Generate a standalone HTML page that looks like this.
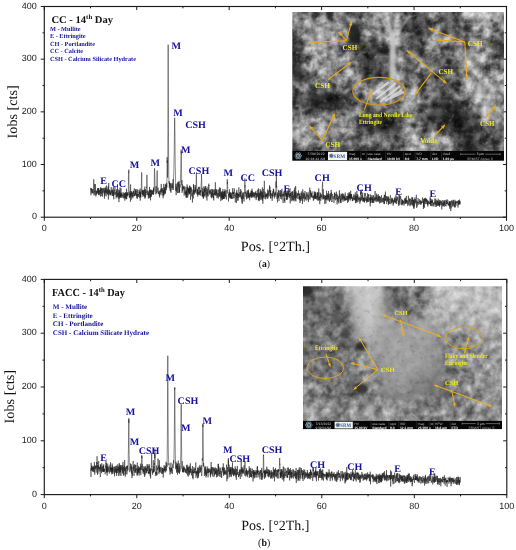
<!DOCTYPE html><html><head><meta charset="utf-8"><style>
html,body{margin:0;padding:0;background:#fff;}
body{width:516px;height:550px;overflow:hidden;position:relative;}
svg{position:absolute;left:0;top:0;filter:blur(0.28px);text-rendering:geometricPrecision;}
</style></head><body>
<svg width="516" height="550" viewBox="0 0 516 550">
<g stroke="#1c1c1c" stroke-width="1"><rect x="44.30" y="6.50" width="462.20" height="210.70" fill="none" stroke="#1c1c1c" stroke-width="1.15"/><line x1="44.30" y1="217.20" x2="44.30" y2="220.80" /><line x1="44.30" y1="6.50" x2="44.30" y2="10.10" /><line x1="90.52" y1="217.20" x2="90.52" y2="219.00" /><line x1="90.52" y1="6.50" x2="90.52" y2="8.30" /><line x1="136.74" y1="217.20" x2="136.74" y2="220.80" /><line x1="136.74" y1="6.50" x2="136.74" y2="10.10" /><line x1="182.96" y1="217.20" x2="182.96" y2="219.00" /><line x1="182.96" y1="6.50" x2="182.96" y2="8.30" /><line x1="229.18" y1="217.20" x2="229.18" y2="220.80" /><line x1="229.18" y1="6.50" x2="229.18" y2="10.10" /><line x1="275.40" y1="217.20" x2="275.40" y2="219.00" /><line x1="275.40" y1="6.50" x2="275.40" y2="8.30" /><line x1="321.62" y1="217.20" x2="321.62" y2="220.80" /><line x1="321.62" y1="6.50" x2="321.62" y2="10.10" /><line x1="367.84" y1="217.20" x2="367.84" y2="219.00" /><line x1="367.84" y1="6.50" x2="367.84" y2="8.30" /><line x1="414.06" y1="217.20" x2="414.06" y2="220.80" /><line x1="414.06" y1="6.50" x2="414.06" y2="10.10" /><line x1="460.28" y1="217.20" x2="460.28" y2="219.00" /><line x1="460.28" y1="6.50" x2="460.28" y2="8.30" /><line x1="506.50" y1="217.20" x2="506.50" y2="220.80" /><line x1="506.50" y1="6.50" x2="506.50" y2="10.10" /><line x1="44.30" y1="217.20" x2="40.70" y2="217.20" /><line x1="506.50" y1="217.20" x2="502.90" y2="217.20" /><line x1="44.30" y1="190.86" x2="42.50" y2="190.86" /><line x1="506.50" y1="190.86" x2="504.70" y2="190.86" /><line x1="44.30" y1="164.52" x2="40.70" y2="164.52" /><line x1="506.50" y1="164.52" x2="502.90" y2="164.52" /><line x1="44.30" y1="138.19" x2="42.50" y2="138.19" /><line x1="506.50" y1="138.19" x2="504.70" y2="138.19" /><line x1="44.30" y1="111.85" x2="40.70" y2="111.85" /><line x1="506.50" y1="111.85" x2="502.90" y2="111.85" /><line x1="44.30" y1="85.51" x2="42.50" y2="85.51" /><line x1="506.50" y1="85.51" x2="504.70" y2="85.51" /><line x1="44.30" y1="59.17" x2="40.70" y2="59.17" /><line x1="506.50" y1="59.17" x2="502.90" y2="59.17" /><line x1="44.30" y1="32.84" x2="42.50" y2="32.84" /><line x1="506.50" y1="32.84" x2="504.70" y2="32.84" /><line x1="44.30" y1="6.50" x2="40.70" y2="6.50" /><line x1="506.50" y1="6.50" x2="502.90" y2="6.50" /></g><g font-family='"Liberation Sans", Arial, sans-serif' font-size="9" fill="#1a1a1a"><text x="44.30" y="231.40" text-anchor="middle">0</text><text x="136.74" y="231.40" text-anchor="middle">20</text><text x="229.18" y="231.40" text-anchor="middle">40</text><text x="321.62" y="231.40" text-anchor="middle">60</text><text x="414.06" y="231.40" text-anchor="middle">80</text><text x="506.50" y="231.40" text-anchor="middle">100</text><text x="36.90" y="219.40" text-anchor="end">0</text><text x="36.90" y="166.72" text-anchor="end">100</text><text x="36.90" y="114.05" text-anchor="end">200</text><text x="36.90" y="61.37" text-anchor="end">300</text><text x="36.90" y="8.70" text-anchor="end">400</text></g>
<g stroke="#1c1c1c" stroke-width="1"><rect x="44.30" y="279.40" width="462.50" height="215.20" fill="none" stroke="#1c1c1c" stroke-width="1.15"/><line x1="44.30" y1="494.60" x2="44.30" y2="498.20" /><line x1="44.30" y1="279.40" x2="44.30" y2="283.00" /><line x1="90.55" y1="494.60" x2="90.55" y2="496.40" /><line x1="90.55" y1="279.40" x2="90.55" y2="281.20" /><line x1="136.80" y1="494.60" x2="136.80" y2="498.20" /><line x1="136.80" y1="279.40" x2="136.80" y2="283.00" /><line x1="183.05" y1="494.60" x2="183.05" y2="496.40" /><line x1="183.05" y1="279.40" x2="183.05" y2="281.20" /><line x1="229.30" y1="494.60" x2="229.30" y2="498.20" /><line x1="229.30" y1="279.40" x2="229.30" y2="283.00" /><line x1="275.55" y1="494.60" x2="275.55" y2="496.40" /><line x1="275.55" y1="279.40" x2="275.55" y2="281.20" /><line x1="321.80" y1="494.60" x2="321.80" y2="498.20" /><line x1="321.80" y1="279.40" x2="321.80" y2="283.00" /><line x1="368.05" y1="494.60" x2="368.05" y2="496.40" /><line x1="368.05" y1="279.40" x2="368.05" y2="281.20" /><line x1="414.30" y1="494.60" x2="414.30" y2="498.20" /><line x1="414.30" y1="279.40" x2="414.30" y2="283.00" /><line x1="460.55" y1="494.60" x2="460.55" y2="496.40" /><line x1="460.55" y1="279.40" x2="460.55" y2="281.20" /><line x1="506.80" y1="494.60" x2="506.80" y2="498.20" /><line x1="506.80" y1="279.40" x2="506.80" y2="283.00" /><line x1="44.30" y1="494.60" x2="40.70" y2="494.60" /><line x1="506.80" y1="494.60" x2="503.20" y2="494.60" /><line x1="44.30" y1="467.70" x2="42.50" y2="467.70" /><line x1="506.80" y1="467.70" x2="505.00" y2="467.70" /><line x1="44.30" y1="440.80" x2="40.70" y2="440.80" /><line x1="506.80" y1="440.80" x2="503.20" y2="440.80" /><line x1="44.30" y1="413.90" x2="42.50" y2="413.90" /><line x1="506.80" y1="413.90" x2="505.00" y2="413.90" /><line x1="44.30" y1="387.00" x2="40.70" y2="387.00" /><line x1="506.80" y1="387.00" x2="503.20" y2="387.00" /><line x1="44.30" y1="360.10" x2="42.50" y2="360.10" /><line x1="506.80" y1="360.10" x2="505.00" y2="360.10" /><line x1="44.30" y1="333.20" x2="40.70" y2="333.20" /><line x1="506.80" y1="333.20" x2="503.20" y2="333.20" /><line x1="44.30" y1="306.30" x2="42.50" y2="306.30" /><line x1="506.80" y1="306.30" x2="505.00" y2="306.30" /><line x1="44.30" y1="279.40" x2="40.70" y2="279.40" /><line x1="506.80" y1="279.40" x2="503.20" y2="279.40" /></g><g font-family='"Liberation Sans", Arial, sans-serif' font-size="9" fill="#1a1a1a"><text x="44.30" y="508.80" text-anchor="middle">0</text><text x="136.80" y="508.80" text-anchor="middle">20</text><text x="229.30" y="508.80" text-anchor="middle">40</text><text x="321.80" y="508.80" text-anchor="middle">60</text><text x="414.30" y="508.80" text-anchor="middle">80</text><text x="506.80" y="508.80" text-anchor="middle">100</text><text x="36.90" y="496.80" text-anchor="end">0</text><text x="36.90" y="443.00" text-anchor="end">100</text><text x="36.90" y="389.20" text-anchor="end">200</text><text x="36.90" y="335.40" text-anchor="end">300</text><text x="36.90" y="281.60" text-anchor="end">400</text></g>
<polyline points="90.52,189.70 90.67,188.12 90.82,189.76 90.96,195.21 91.11,187.86 91.26,189.39 91.41,192.67 91.56,188.95 91.70,189.68 91.85,189.91 92.00,190.80 92.15,189.08 92.29,193.36 92.44,191.45 92.59,192.52 92.74,188.93 92.89,190.79 93.03,191.90 93.18,193.47 93.33,191.27 93.48,188.52 93.63,186.09 93.76,179.27 93.77,180.26 93.92,195.05 94.07,195.50 94.22,191.22 94.37,192.34 94.51,190.26 94.66,190.25 94.81,183.94 94.96,194.68 95.11,192.24 95.25,184.20 95.40,188.84 95.55,188.79 95.70,192.71 95.84,196.48 95.99,190.45 96.14,190.65 96.29,195.09 96.44,193.29 96.58,191.27 96.73,194.17 96.88,191.36 97.03,190.72 97.18,190.93 97.32,192.73 97.47,189.08 97.62,188.10 97.77,190.00 97.92,193.78 98.06,188.64 98.21,192.74 98.36,188.16 98.51,194.64 98.65,188.05 98.80,191.16 98.95,195.24 99.10,192.14 99.25,190.92 99.39,190.20 99.54,194.37 99.69,194.79 99.84,190.46 99.99,192.67 100.13,190.35 100.28,188.61 100.43,196.60 100.58,190.30 100.73,187.09 100.87,192.13 101.02,193.84 101.17,188.67 101.32,190.32 101.46,188.20 101.61,192.31 101.76,196.08 101.91,191.54 102.06,192.66 102.20,188.62 102.35,190.55 102.50,196.59 102.65,195.15 102.80,188.28 102.94,188.96 103.09,193.33 103.24,191.22 103.39,189.75 103.54,189.67 103.68,188.33 103.83,190.38 103.98,191.55 104.13,192.10 104.28,187.75 104.42,198.69 104.57,191.71 104.72,191.15 104.87,195.97 105.01,190.17 105.16,193.42 105.31,188.42 105.46,191.69 105.61,189.07 105.75,187.26 105.90,190.03 106.05,194.19 106.20,196.30 106.35,185.51 106.49,191.67 106.64,193.58 106.79,190.84 106.94,191.95 107.09,188.51 107.23,191.22 107.38,191.29 107.53,193.69 107.68,189.79 107.82,194.76 107.97,189.15 108.12,186.32 108.27,196.39 108.42,199.50 108.56,189.33 108.71,182.96 108.86,194.67 109.01,195.50 109.16,189.47 109.30,194.21 109.45,193.14 109.60,192.66 109.75,189.80 109.90,192.91 110.04,190.70 110.19,192.23 110.34,194.45 110.49,192.76 110.63,194.86 110.78,191.76 110.93,195.49 111.08,195.42 111.23,187.12 111.37,192.09 111.52,192.13 111.67,190.32 111.82,193.39 111.97,192.79 112.11,190.70 112.26,191.20 112.41,195.92 112.56,189.48 112.71,194.13 112.85,195.68 113.00,195.20 113.15,193.58 113.30,187.09 113.45,196.19 113.59,191.90 113.74,199.36 113.89,192.49 114.04,189.62 114.18,193.32 114.33,194.62 114.48,191.88 114.63,190.41 114.78,190.56 114.92,186.39 115.07,192.09 115.22,194.69 115.37,193.23 115.52,193.09 115.66,192.54 115.81,193.02 115.96,192.40 116.11,198.33 116.26,190.38 116.40,194.89 116.55,196.83 116.70,191.10 116.85,188.97 116.99,191.63 117.14,192.72 117.29,196.22 117.44,184.18 117.59,190.54 117.73,196.97 117.88,195.86 118.03,193.15 118.18,198.38 118.33,192.96 118.47,194.98 118.62,189.70 118.77,190.56 118.92,202.17 119.07,193.53 119.21,198.79 119.36,190.24 119.51,193.24 119.66,192.08 119.80,197.17 119.95,188.14 120.10,187.57 120.25,197.27 120.40,192.80 120.54,196.11 120.69,194.11 120.84,198.02 120.99,188.28 121.14,197.16 121.28,195.09 121.43,192.64 121.58,196.25 121.73,195.01 121.88,196.05 122.02,194.75 122.17,198.00 122.32,195.76 122.47,195.08 122.62,195.50 122.76,194.33 122.91,195.43 123.06,192.19 123.21,195.51 123.35,194.93 123.50,196.55 123.65,196.11 123.80,198.39 123.95,192.86 124.09,198.00 124.24,196.76 124.39,193.33 124.54,193.19 124.69,195.66 124.83,200.67 124.98,193.11 125.13,193.60 125.28,198.77 125.43,192.00 125.57,196.55 125.72,197.86 125.87,194.06 126.02,194.90 126.16,193.71 126.31,199.31 126.46,188.70 126.61,196.19 126.76,199.09 126.90,192.38 127.05,195.39 127.20,193.27 127.35,195.33 127.50,194.45 127.64,193.49 127.79,196.56 127.94,192.07 128.09,195.26 128.24,194.77 128.38,186.80 128.53,176.95 128.68,171.61 128.74,172.64 128.83,169.55 128.98,184.96 129.12,191.06 129.27,192.24 129.42,198.05 129.57,194.01 129.71,194.30 129.86,191.32 130.01,196.97 130.16,196.06 130.31,193.06 130.45,201.76 130.60,184.41 130.75,196.25 130.90,196.34 131.05,191.37 131.19,194.17 131.34,199.60 131.49,192.07 131.64,191.35 131.79,195.42 131.93,194.88 132.08,192.48 132.23,196.83 132.38,192.61 132.52,193.35 132.67,196.07 132.82,198.31 132.97,194.65 133.12,196.67 133.26,190.79 133.41,193.47 133.56,191.46 133.71,193.48 133.86,193.07 134.00,196.34 134.15,191.78 134.30,188.27 134.45,194.83 134.60,195.71 134.74,194.34 134.89,195.34 135.04,196.02 135.19,193.38 135.33,194.72 135.48,189.28 135.63,193.79 135.78,192.76 135.93,190.78 136.07,194.71 136.22,189.24 136.37,195.73 136.52,196.28 136.67,194.88 136.81,194.08 136.96,198.11 137.11,193.81 137.26,198.94 137.41,189.30 137.55,193.93 137.70,195.69 137.85,196.52 138.00,194.86 138.15,194.34 138.29,196.92 138.44,196.52 138.59,194.20 138.74,195.24 138.88,190.64 139.03,190.00 139.18,193.53 139.33,192.08 139.48,197.77 139.62,191.54 139.77,193.64 139.92,192.00 140.07,188.47 140.22,200.71 140.36,192.68 140.51,196.97 140.66,191.62 140.81,197.62 140.96,194.95 141.10,192.14 141.25,188.19 141.40,183.48 141.55,178.77 141.64,176.22 141.69,172.34 141.84,181.69 141.99,194.20 142.14,189.69 142.29,191.95 142.43,190.64 142.58,194.47 142.73,190.78 142.88,196.75 143.03,191.59 143.17,194.94 143.32,191.25 143.47,190.20 143.62,195.70 143.77,193.53 143.91,193.24 144.06,189.59 144.21,191.11 144.36,197.21 144.50,191.90 144.65,190.98 144.80,186.61 144.95,198.65 145.10,195.02 145.24,189.10 145.39,197.61 145.54,197.11 145.69,191.67 145.84,190.07 145.98,195.41 146.13,191.56 146.28,192.72 146.43,187.15 146.58,188.01 146.72,177.36 146.87,177.46 146.91,174.89 147.02,177.12 147.17,180.90 147.32,188.61 147.46,195.09 147.61,191.01 147.76,190.78 147.91,193.58 148.05,194.04 148.20,193.83 148.35,198.59 148.50,192.61 148.65,192.46 148.79,195.94 148.94,190.83 149.09,197.55 149.24,194.93 149.39,194.68 149.53,186.86 149.68,198.24 149.83,191.37 149.98,190.16 150.13,191.95 150.27,189.39 150.42,196.32 150.57,200.38 150.72,190.69 150.86,196.92 151.01,194.15 151.16,196.86 151.31,189.76 151.46,190.35 151.60,195.38 151.75,190.21 151.90,192.69 152.05,193.52 152.20,192.88 152.34,193.70 152.49,191.10 152.64,192.06 152.79,194.15 152.94,189.83 153.08,194.97 153.23,192.11 153.38,191.67 153.53,188.30 153.68,194.59 153.82,187.27 153.97,191.52 154.12,190.18 154.27,185.87 154.41,173.28 154.56,168.33 154.63,171.19 154.71,172.58 154.86,177.99 155.01,186.77 155.15,186.50 155.30,187.79 155.45,190.01 155.60,191.75 155.75,194.26 155.89,192.72 156.04,190.06 156.19,186.08 156.34,189.92 156.49,193.38 156.63,190.56 156.78,186.71 156.93,178.96 157.08,172.34 157.08,171.13 157.22,170.59 157.37,184.97 157.52,186.30 157.67,186.77 157.82,192.48 157.96,187.63 158.11,190.47 158.26,194.07 158.41,191.88 158.56,192.64 158.70,193.45 158.85,193.33 159.00,192.22 159.15,191.28 159.30,195.48 159.44,192.67 159.59,197.49 159.74,191.78 159.89,190.59 160.03,192.02 160.18,191.58 160.33,190.56 160.48,194.53 160.63,193.12 160.77,190.66 160.92,189.04 161.07,190.93 161.22,183.94 161.37,192.39 161.51,188.83 161.66,187.91 161.81,192.36 161.96,194.52 162.11,195.63 162.25,191.23 162.40,188.10 162.55,190.74 162.70,191.00 162.85,192.71 162.99,189.59 163.14,198.26 163.29,190.50 163.44,191.08 163.58,195.53 163.73,183.91 163.88,195.40 164.03,194.29 164.18,194.58 164.32,186.92 164.47,193.31 164.62,188.08 164.77,188.19 164.92,189.09 165.06,194.03 165.21,191.55 165.36,183.83 165.51,193.29 165.66,191.49 165.80,188.97 165.95,185.40 166.10,186.81 166.25,184.70 166.39,190.09 166.54,182.81 166.69,183.08 166.84,187.74 166.99,170.41 167.13,157.20 167.25,163.01 167.28,160.42 167.43,162.55 167.58,177.64 167.73,170.79 167.87,134.36 167.94,108.79 168.02,77.64 168.17,44.66 168.17,45.78 168.32,80.91 168.47,130.15 168.61,161.15 168.76,175.60 168.91,179.26 169.06,183.53 169.20,181.07 169.35,188.21 169.50,183.04 169.65,186.30 169.80,182.63 169.94,185.16 170.09,190.61 170.24,186.77 170.39,183.32 170.54,191.27 170.68,189.48 170.83,190.25 170.98,192.72 171.13,184.55 171.28,183.37 171.42,185.04 171.57,186.84 171.72,187.73 171.87,186.64 172.02,189.73 172.16,184.14 172.31,183.42 172.46,183.54 172.61,188.11 172.75,185.73 172.90,186.13 173.05,179.14 173.20,183.91 173.35,189.99 173.49,181.15 173.64,173.98 173.79,173.86 173.94,166.17 174.09,158.38 174.23,151.65 174.38,137.63 174.53,126.24 174.64,120.14 174.64,118.68 174.68,117.69 174.83,127.25 174.97,134.96 175.12,152.99 175.27,166.65 175.42,170.29 175.56,181.64 175.71,190.73 175.86,186.83 176.01,183.98 176.16,195.24 176.30,186.71 176.45,187.09 176.60,191.14 176.75,191.67 176.90,188.58 177.04,189.12 177.19,183.32 177.34,186.46 177.49,193.14 177.64,190.86 177.78,185.77 177.93,181.89 178.08,186.99 178.23,187.29 178.37,182.15 178.52,188.43 178.67,189.36 178.82,193.00 178.97,189.93 179.11,180.87 179.26,192.74 179.41,187.80 179.56,192.32 179.71,186.96 179.85,184.13 180.00,187.53 180.15,183.81 180.30,183.03 180.45,182.06 180.59,173.46 180.74,168.44 180.89,161.42 181.04,154.70 181.11,154.09 181.11,149.69 181.19,153.53 181.33,151.39 181.48,165.02 181.63,180.06 181.78,184.87 181.92,180.07 182.07,192.85 182.22,188.61 182.37,184.36 182.52,190.92 182.66,189.79 182.81,189.64 182.96,186.50 183.11,188.44 183.26,187.74 183.40,187.25 183.55,189.26 183.70,185.78 183.85,192.01 184.00,194.46 184.14,195.67 184.29,195.23 184.44,191.73 184.59,186.52 184.73,189.42 184.88,192.05 185.03,193.66 185.18,191.90 185.33,191.52 185.47,192.09 185.62,195.01 185.77,191.85 185.92,186.90 186.07,197.56 186.21,191.14 186.36,197.43 186.51,189.77 186.66,192.89 186.81,197.37 186.95,190.10 187.10,184.39 187.25,190.10 187.40,186.61 187.55,190.73 187.69,197.69 187.84,188.88 187.99,191.92 188.14,195.40 188.28,187.93 188.43,189.60 188.58,192.31 188.73,187.68 188.88,193.48 189.02,188.44 189.17,193.73 189.32,188.82 189.47,194.27 189.62,185.65 189.76,189.77 189.91,185.85 190.06,193.37 190.21,192.22 190.36,187.84 190.50,199.79 190.65,194.21 190.80,187.21 190.95,189.11 191.09,187.41 191.24,191.70 191.39,188.80 191.54,193.11 191.69,195.25 191.83,196.33 191.98,192.53 192.13,192.52 192.28,192.79 192.43,202.52 192.57,197.36 192.72,192.48 192.87,189.75 193.02,192.64 193.17,193.64 193.31,198.41 193.46,183.98 193.61,194.39 193.76,185.12 193.90,185.53 194.05,189.82 194.20,192.64 194.35,190.29 194.50,194.58 194.64,189.87 194.79,190.73 194.94,188.97 195.09,187.58 195.24,184.97 195.38,192.04 195.53,187.25 195.68,193.22 195.83,192.84 195.98,189.60 196.12,186.36 196.27,175.34 196.36,174.51 196.42,173.73 196.57,181.90 196.72,185.70 196.86,191.41 197.01,194.34 197.16,189.24 197.31,189.87 197.45,194.46 197.60,188.82 197.75,196.57 197.90,191.37 198.05,192.87 198.19,192.54 198.34,194.39 198.49,187.60 198.64,188.89 198.79,186.84 198.93,190.35 199.08,195.11 199.23,192.05 199.38,194.75 199.53,189.30 199.67,186.79 199.82,189.73 199.97,192.83 200.12,192.07 200.26,190.16 200.41,195.65 200.56,190.33 200.71,190.10 200.86,192.12 201.00,189.99 201.15,184.01 201.30,182.00 201.45,179.37 201.45,174.04 201.60,178.57 201.74,179.08 201.89,192.00 202.04,196.38 202.19,187.83 202.34,187.89 202.48,193.56 202.63,196.02 202.78,191.35 202.93,197.03 203.07,192.40 203.22,198.52 203.37,192.13 203.52,198.38 203.67,192.20 203.81,186.45 203.96,192.37 204.11,188.99 204.26,193.68 204.41,194.54 204.55,196.56 204.70,188.26 204.85,191.90 205.00,186.43 205.15,195.65 205.29,192.56 205.44,191.60 205.59,187.28 205.74,185.98 205.89,194.09 206.03,195.71 206.18,197.71 206.33,187.73 206.48,192.41 206.62,194.27 206.77,192.36 206.92,200.55 207.07,197.87 207.22,189.26 207.36,191.05 207.51,191.88 207.66,195.65 207.81,190.54 207.96,186.71 208.10,196.41 208.25,192.14 208.40,192.48 208.55,187.27 208.70,184.88 208.84,183.67 208.84,186.04 208.99,185.04 209.14,190.55 209.29,191.75 209.43,192.66 209.58,190.69 209.73,194.75 209.88,193.96 210.03,189.52 210.17,193.69 210.32,193.86 210.47,190.29 210.62,192.22 210.77,192.83 210.91,192.45 211.06,197.14 211.21,191.75 211.36,189.03 211.51,191.43 211.65,198.26 211.80,192.44 211.95,196.25 212.10,194.12 212.24,193.02 212.39,197.25 212.54,189.27 212.69,193.75 212.84,191.05 212.98,191.58 213.13,189.38 213.28,189.89 213.43,198.33 213.58,193.58 213.72,200.47 213.87,195.19 214.02,191.56 214.17,190.97 214.32,189.83 214.46,195.09 214.61,192.94 214.76,193.67 214.91,190.04 215.06,189.07 215.20,195.19 215.35,182.27 215.50,194.12 215.65,195.27 215.79,192.26 215.94,191.77 216.09,192.45 216.24,196.19 216.39,189.57 216.53,194.01 216.68,189.39 216.83,189.85 216.98,198.17 217.13,197.26 217.27,197.34 217.42,193.45 217.57,194.07 217.72,193.41 217.87,196.78 218.01,192.94 218.16,189.91 218.31,198.44 218.46,194.90 218.60,193.53 218.75,194.72 218.90,194.94 219.05,188.84 219.20,190.36 219.34,191.72 219.49,196.73 219.64,187.42 219.79,193.27 219.94,196.19 220.08,195.46 220.23,195.94 220.38,187.86 220.53,193.80 220.68,194.26 220.82,201.13 220.97,192.19 221.12,197.76 221.27,197.99 221.42,192.61 221.56,197.19 221.71,191.94 221.86,191.07 222.01,200.08 222.15,194.98 222.30,199.44 222.45,194.78 222.60,191.78 222.75,198.82 222.89,189.06 223.04,195.59 223.19,198.30 223.34,195.04 223.49,192.23 223.63,198.93 223.78,194.69 223.93,198.94 224.08,191.01 224.23,194.26 224.37,196.06 224.52,191.57 224.67,198.74 224.82,195.99 224.96,189.12 225.11,195.19 225.26,190.65 225.41,194.23 225.56,196.99 225.70,195.61 225.85,194.63 226.00,196.14 226.15,197.42 226.30,197.30 226.44,199.46 226.59,194.49 226.74,193.14 226.89,190.15 227.04,193.53 227.18,179.63 227.33,179.24 227.33,183.56 227.48,181.82 227.63,185.55 227.77,190.92 227.92,192.22 228.07,192.06 228.22,192.30 228.37,195.17 228.51,201.44 228.66,197.41 228.81,194.01 228.96,196.54 229.11,193.03 229.25,192.69 229.40,194.98 229.55,189.38 229.70,198.10 229.85,192.28 229.99,196.57 230.14,197.51 230.29,193.32 230.44,197.00 230.59,192.50 230.73,198.68 230.88,195.01 231.03,197.70 231.18,195.84 231.32,196.26 231.47,198.57 231.62,193.12 231.77,198.92 231.92,198.11 232.06,192.40 232.21,192.15 232.36,193.08 232.51,194.08 232.66,188.16 232.80,198.81 232.95,197.39 233.10,198.15 233.25,192.37 233.40,194.24 233.54,191.72 233.69,192.14 233.84,195.80 233.99,197.61 234.13,198.14 234.28,188.36 234.43,192.16 234.58,193.30 234.73,196.15 234.87,195.72 235.02,196.16 235.17,196.10 235.32,202.45 235.47,195.30 235.61,196.28 235.76,194.22 235.91,194.47 236.06,192.50 236.21,195.15 236.35,192.68 236.50,202.93 236.65,198.47 236.80,189.84 236.94,198.83 237.09,195.96 237.24,192.95 237.39,197.80 237.54,192.90 237.68,199.47 237.83,200.95 237.98,199.17 238.13,200.16 238.28,195.16 238.42,196.08 238.57,194.11 238.72,198.27 238.87,187.34 239.02,195.40 239.16,195.25 239.31,193.72 239.46,195.85 239.61,197.04 239.76,194.85 239.90,192.30 240.05,193.08 240.20,192.23 240.35,196.83 240.49,197.47 240.64,188.99 240.79,195.83 240.94,193.64 241.09,192.85 241.23,190.77 241.38,199.23 241.53,196.57 241.68,196.43 241.83,196.02 241.97,202.47 242.12,195.39 242.27,203.94 242.42,194.19 242.57,193.46 242.71,193.27 242.86,198.78 243.01,192.18 243.16,197.73 243.30,198.84 243.45,198.09 243.60,197.68 243.75,194.57 243.90,192.58 244.04,201.51 244.19,196.70 244.34,191.95 244.49,192.44 244.64,187.22 244.78,187.78 244.89,178.47 244.93,186.38 245.08,185.26 245.23,187.10 245.38,188.38 245.52,193.36 245.67,192.36 245.82,196.92 245.97,196.54 246.12,191.50 246.26,195.06 246.41,195.46 246.56,199.37 246.71,194.61 246.85,193.10 247.00,197.49 247.15,196.62 247.30,190.24 247.45,194.52 247.59,195.95 247.74,198.54 247.89,196.96 248.04,195.83 248.19,190.89 248.33,196.93 248.48,189.59 248.63,197.90 248.78,196.16 248.93,192.49 249.07,195.80 249.22,197.60 249.37,195.47 249.52,193.70 249.66,200.31 249.81,195.83 249.96,195.40 250.11,196.30 250.26,192.82 250.40,196.80 250.55,196.18 250.70,194.95 250.85,192.84 251.00,195.74 251.14,190.44 251.29,197.84 251.44,191.14 251.59,197.69 251.74,195.57 251.88,193.96 252.03,188.79 252.18,192.33 252.33,196.31 252.47,191.10 252.62,195.72 252.77,197.49 252.92,193.70 253.07,194.78 253.21,192.16 253.36,196.75 253.51,193.90 253.66,193.13 253.81,194.22 253.95,195.16 254.10,197.20 254.25,192.31 254.40,194.65 254.55,193.55 254.69,196.14 254.84,195.03 254.99,198.24 255.14,194.81 255.29,192.73 255.43,194.79 255.58,192.45 255.73,194.11 255.88,190.91 256.02,195.65 256.17,200.07 256.32,193.75 256.47,195.57 256.62,198.04 256.76,193.08 256.91,194.26 257.06,193.71 257.21,196.08 257.36,194.47 257.50,194.29 257.65,189.65 257.80,197.16 257.95,195.10 258.10,193.96 258.24,200.34 258.39,199.96 258.54,188.46 258.69,200.47 258.83,193.31 258.98,197.66 259.13,197.40 259.28,201.12 259.43,197.82 259.57,192.68 259.72,199.31 259.87,193.25 260.02,194.11 260.17,188.91 260.31,196.52 260.46,191.21 260.61,192.36 260.76,195.95 260.91,200.15 261.05,190.46 261.20,199.24 261.35,196.52 261.50,192.37 261.64,191.66 261.79,197.65 261.94,195.17 262.09,195.86 262.24,191.46 262.38,187.42 262.53,200.66 262.68,192.27 262.83,203.80 262.98,195.03 263.12,198.46 263.27,188.99 263.42,194.56 263.57,197.26 263.72,196.24 263.86,195.33 264.01,190.32 264.16,187.83 264.31,183.59 264.31,180.89 264.46,185.20 264.60,194.63 264.75,198.53 264.90,197.02 265.05,191.80 265.19,196.09 265.34,197.11 265.49,194.65 265.64,199.39 265.79,198.55 265.93,193.51 266.08,196.00 266.23,196.45 266.38,194.10 266.53,196.86 266.67,197.17 266.82,196.47 266.97,193.23 267.12,194.89 267.27,198.72 267.41,196.00 267.56,193.09 267.71,189.36 267.86,198.56 268.00,194.04 268.15,195.86 268.30,192.55 268.45,193.70 268.60,190.58 268.74,193.49 268.89,196.73 269.04,196.70 269.19,193.72 269.34,193.27 269.48,185.70 269.63,185.30 269.78,191.65 269.85,186.63 269.93,192.13 270.08,195.48 270.22,190.75 270.37,192.79 270.52,198.13 270.67,190.04 270.81,198.06 270.96,198.64 271.11,193.08 271.26,194.40 271.41,195.56 271.55,195.28 271.70,194.39 271.85,195.50 272.00,195.60 272.15,200.86 272.29,199.17 272.44,193.21 272.59,197.22 272.74,193.41 272.89,191.30 273.03,196.16 273.18,194.21 273.33,188.73 273.48,192.95 273.63,189.45 273.77,190.39 273.92,192.77 274.07,195.41 274.22,197.64 274.36,198.47 274.51,193.59 274.66,193.64 274.81,195.61 274.96,192.48 275.10,196.92 275.25,191.68 275.40,194.94 275.55,195.13 275.70,194.66 275.84,193.45 275.99,181.51 276.14,187.77 276.29,177.91 276.32,174.44 276.44,177.88 276.58,187.02 276.73,186.21 276.88,197.42 277.03,198.93 277.17,193.36 277.32,199.55 277.47,202.37 277.62,192.43 277.77,192.80 277.91,192.90 278.06,196.62 278.21,194.58 278.36,198.08 278.51,189.86 278.65,192.74 278.80,192.89 278.95,201.10 279.10,192.70 279.25,190.61 279.39,191.46 279.54,192.76 279.69,195.17 279.84,196.21 279.99,193.34 280.13,194.01 280.28,194.46 280.43,196.13 280.58,190.07 280.72,198.75 280.87,195.27 281.02,196.97 281.17,192.06 281.32,190.85 281.46,191.42 281.61,192.91 281.76,199.49 281.91,188.89 282.06,193.65 282.20,195.56 282.35,195.17 282.50,196.27 282.65,193.95 282.80,194.30 282.94,196.34 283.09,203.06 283.24,195.36 283.39,193.80 283.53,193.66 283.68,195.73 283.83,193.89 283.98,192.14 284.13,196.70 284.27,190.82 284.42,201.22 284.57,199.11 284.72,198.04 284.87,202.72 285.01,198.33 285.16,191.50 285.31,191.53 285.46,195.01 285.61,190.08 285.75,194.58 285.90,196.82 286.05,194.58 286.20,195.74 286.34,193.09 286.49,199.89 286.64,192.30 286.79,196.73 286.94,192.74 287.08,200.02 287.23,196.61 287.38,195.11 287.53,192.61 287.68,199.05 287.82,190.30 287.97,193.90 288.12,196.96 288.27,191.67 288.42,195.06 288.56,191.86 288.71,188.33 288.86,193.05 289.01,196.98 289.16,196.68 289.30,193.62 289.45,194.52 289.60,197.92 289.75,197.42 289.89,193.39 290.04,188.30 290.19,203.38 290.34,193.22 290.49,196.06 290.63,193.06 290.78,192.80 290.93,195.27 291.08,198.51 291.23,199.66 291.37,201.11 291.52,191.74 291.67,196.08 291.82,197.08 291.97,196.29 292.11,199.51 292.26,194.54 292.41,191.47 292.56,192.02 292.70,200.21 292.85,191.35 293.00,197.79 293.15,201.26 293.30,199.20 293.44,198.41 293.59,195.51 293.74,198.61 293.89,200.06 294.04,196.30 294.18,189.68 294.33,197.63 294.48,194.10 294.63,195.27 294.78,187.48 294.92,201.26 295.07,192.21 295.22,199.40 295.37,197.32 295.51,195.82 295.66,185.91 295.81,197.84 295.96,201.25 296.11,191.63 296.25,198.08 296.40,196.29 296.55,195.63 296.70,195.27 296.85,196.08 296.99,194.76 297.14,194.40 297.29,192.99 297.44,196.87 297.59,197.84 297.73,198.79 297.88,193.80 298.03,195.73 298.18,193.92 298.33,193.97 298.47,190.51 298.62,194.98 298.77,193.34 298.92,199.25 299.06,198.88 299.21,196.57 299.36,199.31 299.51,193.57 299.66,199.67 299.80,195.46 299.95,203.07 300.10,199.00 300.25,196.71 300.40,196.47 300.54,201.09 300.69,195.38 300.84,192.78 300.99,193.77 301.14,197.71 301.28,197.50 301.43,199.31 301.58,193.86 301.73,191.42 301.87,197.35 302.02,200.87 302.17,195.18 302.32,193.66 302.47,203.97 302.61,195.39 302.76,189.31 302.91,193.35 303.06,194.17 303.21,194.62 303.35,192.65 303.50,198.67 303.65,198.39 303.80,194.64 303.95,197.92 304.09,195.10 304.24,201.61 304.39,193.62 304.54,193.36 304.68,195.77 304.83,195.42 304.98,191.06 305.13,199.17 305.28,198.66 305.42,199.21 305.57,197.22 305.72,198.98 305.87,195.85 306.02,197.91 306.16,200.31 306.31,200.62 306.46,192.37 306.61,196.20 306.76,196.68 306.90,195.93 307.05,196.26 307.20,193.77 307.35,194.35 307.50,197.80 307.64,198.51 307.79,199.30 307.94,199.80 308.09,191.88 308.23,198.81 308.38,202.11 308.53,198.61 308.68,198.45 308.83,195.12 308.97,198.75 309.12,194.53 309.27,194.97 309.42,192.36 309.57,189.69 309.71,187.66 309.86,192.13 310.01,199.62 310.16,197.37 310.31,195.44 310.45,190.03 310.60,194.18 310.75,192.62 310.90,196.72 311.04,194.46 311.19,194.08 311.34,197.58 311.49,193.92 311.64,193.06 311.78,196.72 311.93,193.23 312.08,191.37 312.23,196.07 312.38,196.28 312.52,197.20 312.67,198.13 312.82,195.84 312.97,197.53 313.12,197.24 313.26,198.62 313.41,200.88 313.56,199.11 313.71,195.37 313.86,199.86 314.00,198.28 314.15,191.50 314.30,193.03 314.45,198.43 314.59,194.60 314.74,198.32 314.89,191.58 315.04,198.14 315.19,196.17 315.33,192.33 315.48,198.88 315.63,192.58 315.78,198.86 315.93,195.75 316.07,197.33 316.22,196.73 316.37,196.00 316.52,196.70 316.67,199.49 316.81,193.94 316.96,194.37 317.11,192.70 317.26,192.43 317.40,200.49 317.55,192.74 317.70,192.71 317.85,198.12 318.00,193.49 318.14,192.23 318.29,198.16 318.44,200.64 318.59,197.64 318.74,188.36 318.88,195.90 319.03,200.18 319.18,197.36 319.33,199.55 319.48,197.80 319.62,196.35 319.77,204.18 319.92,195.59 320.07,192.49 320.21,197.24 320.36,197.79 320.51,193.46 320.66,200.41 320.81,200.35 320.95,200.78 321.10,197.17 321.25,195.55 321.40,196.99 321.55,195.11 321.69,194.29 321.84,195.23 321.99,198.67 322.14,195.21 322.29,185.81 322.43,186.13 322.54,181.72 322.58,182.45 322.73,186.67 322.88,195.55 323.03,199.66 323.17,189.15 323.32,194.03 323.47,198.91 323.62,197.00 323.76,194.85 323.91,197.85 324.06,195.04 324.21,198.66 324.36,197.91 324.50,197.12 324.65,198.22 324.80,204.06 324.95,196.83 325.10,196.13 325.24,195.51 325.39,199.82 325.54,195.92 325.69,196.30 325.84,202.10 325.98,203.38 326.13,195.56 326.28,199.74 326.43,194.04 326.57,190.72 326.72,198.68 326.87,199.00 327.02,197.03 327.17,195.03 327.31,200.32 327.46,193.38 327.61,194.13 327.76,195.10 327.91,198.61 328.05,194.37 328.20,194.55 328.35,200.56 328.50,190.98 328.65,197.95 328.79,196.01 328.94,198.61 329.09,195.97 329.24,193.73 329.38,199.46 329.53,201.93 329.68,198.43 329.83,200.93 329.98,199.34 330.12,197.51 330.27,197.34 330.42,193.41 330.57,200.12 330.72,196.15 330.86,198.66 331.01,193.22 331.16,189.86 331.31,196.32 331.46,192.35 331.60,198.75 331.75,201.86 331.90,200.91 332.05,201.81 332.20,200.01 332.34,197.94 332.49,193.92 332.64,195.23 332.79,195.92 332.93,198.50 333.08,199.37 333.23,197.19 333.38,196.89 333.53,196.55 333.67,196.23 333.82,197.65 333.97,202.89 334.12,200.55 334.27,199.72 334.41,192.42 334.56,198.58 334.71,195.39 334.86,193.12 335.01,196.39 335.15,198.50 335.30,198.22 335.45,200.33 335.60,196.50 335.74,194.13 335.89,195.75 336.04,195.18 336.19,195.34 336.34,191.63 336.48,199.25 336.63,196.97 336.78,195.40 336.93,193.84 337.08,204.45 337.22,198.96 337.37,198.06 337.52,200.43 337.67,195.03 337.82,196.85 337.96,198.63 338.11,202.20 338.26,201.31 338.41,200.34 338.56,196.20 338.70,201.03 338.85,203.48 339.00,201.71 339.15,199.24 339.29,192.73 339.44,190.35 339.59,198.94 339.74,194.85 339.89,193.54 340.03,193.88 340.18,197.92 340.33,201.33 340.48,199.00 340.63,202.95 340.77,196.92 340.92,195.38 341.07,203.06 341.22,197.77 341.37,196.79 341.51,194.05 341.66,193.69 341.81,195.35 341.96,199.63 342.10,198.72 342.25,194.21 342.40,199.41 342.55,197.80 342.70,193.21 342.84,197.33 342.99,201.64 343.14,198.55 343.29,195.88 343.44,198.26 343.58,194.40 343.73,194.06 343.88,199.60 344.03,199.19 344.18,198.05 344.32,201.20 344.47,196.68 344.62,198.29 344.77,195.53 344.91,199.50 345.06,200.30 345.21,192.54 345.36,200.32 345.51,199.48 345.65,199.91 345.80,198.69 345.95,200.44 346.10,197.96 346.25,199.85 346.39,199.04 346.54,196.82 346.69,195.86 346.84,196.53 346.99,199.97 347.13,196.74 347.28,198.23 347.43,198.19 347.58,202.81 347.73,195.99 347.87,198.31 348.02,193.05 348.17,196.10 348.32,201.11 348.46,201.84 348.61,194.66 348.76,200.44 348.91,196.00 349.06,198.82 349.20,191.98 349.35,197.74 349.50,193.66 349.65,194.19 349.80,199.30 349.94,198.92 350.09,193.77 350.24,197.99 350.39,200.46 350.54,194.57 350.68,190.68 350.83,198.10 350.98,194.01 351.13,198.45 351.27,194.13 351.42,198.66 351.57,194.20 351.72,196.43 351.87,198.50 352.01,197.30 352.16,199.51 352.31,201.17 352.46,200.97 352.61,198.14 352.75,200.97 352.90,196.72 353.05,196.47 353.20,196.64 353.35,199.38 353.49,197.81 353.64,198.05 353.79,194.23 353.94,200.27 354.08,199.08 354.23,198.65 354.38,198.40 354.53,200.12 354.68,199.79 354.82,195.14 354.97,199.82 355.12,195.43 355.27,192.27 355.42,194.42 355.56,203.15 355.71,195.86 355.86,196.70 356.01,196.52 356.16,202.66 356.30,195.92 356.45,201.15 356.60,194.43 356.75,195.07 356.90,190.90 357.04,199.20 357.19,202.42 357.34,195.17 357.49,195.67 357.63,199.22 357.78,194.31 357.93,196.22 358.08,201.80 358.23,199.17 358.37,199.44 358.52,198.50 358.67,197.65 358.82,200.16 358.97,198.77 359.11,196.56 359.26,198.43 359.41,198.99 359.56,199.09 359.71,198.53 359.85,203.64 360.00,197.80 360.15,201.12 360.30,197.75 360.44,201.42 360.59,192.77 360.74,191.93 360.89,194.74 360.91,190.26 361.04,194.13 361.18,189.66 361.33,195.58 361.48,200.22 361.63,197.64 361.78,198.41 361.92,194.97 362.07,197.34 362.22,196.90 362.37,201.49 362.52,196.13 362.66,192.48 362.81,196.58 362.96,198.48 363.11,197.91 363.25,201.05 363.40,197.86 363.55,201.47 363.70,198.27 363.85,199.49 363.99,200.73 364.14,196.79 364.29,202.59 364.44,198.54 364.59,202.14 364.73,193.32 364.88,192.92 365.03,196.08 365.18,193.15 365.33,196.80 365.47,196.95 365.62,199.66 365.77,200.98 365.92,198.13 366.07,199.99 366.21,199.73 366.36,196.47 366.51,198.87 366.66,202.88 366.80,199.14 366.95,200.67 367.10,199.37 367.25,201.62 367.40,195.21 367.54,193.26 367.69,201.67 367.84,196.77 367.99,196.93 368.14,201.60 368.28,198.33 368.43,194.69 368.58,196.28 368.73,194.14 368.88,201.91 369.02,200.74 369.17,197.87 369.32,197.71 369.47,198.64 369.61,199.79 369.76,199.87 369.91,200.43 370.06,197.50 370.21,206.43 370.35,194.34 370.50,200.25 370.65,202.77 370.80,197.30 370.95,202.72 371.09,197.77 371.24,199.96 371.39,197.23 371.54,196.69 371.69,195.30 371.83,200.27 371.98,199.72 372.13,198.96 372.28,202.85 372.43,197.31 372.57,198.60 372.72,202.68 372.87,195.64 373.02,195.22 373.16,202.64 373.31,197.44 373.46,195.58 373.61,196.72 373.76,201.75 373.90,202.91 374.05,199.39 374.20,200.45 374.35,199.12 374.50,199.39 374.64,197.66 374.79,200.67 374.94,199.58 375.09,190.98 375.24,199.52 375.38,197.15 375.53,198.39 375.68,198.60 375.83,201.71 375.97,197.77 376.12,199.37 376.27,197.00 376.42,193.62 376.57,198.76 376.71,197.18 376.86,202.09 377.01,198.97 377.16,195.05 377.31,199.48 377.45,201.07 377.60,198.77 377.75,199.85 377.90,200.01 378.05,200.38 378.19,193.94 378.34,201.77 378.49,200.52 378.64,200.96 378.78,196.03 378.93,200.19 379.08,195.87 379.23,198.99 379.38,199.52 379.52,203.45 379.67,196.17 379.82,198.01 379.97,198.39 380.12,199.82 380.26,200.65 380.41,202.98 380.56,196.96 380.71,198.81 380.86,200.53 381.00,201.28 381.15,199.26 381.30,199.83 381.45,195.12 381.60,197.50 381.74,201.23 381.89,202.62 382.04,200.27 382.19,202.11 382.33,199.44 382.48,198.56 382.63,197.94 382.78,198.54 382.93,200.20 383.07,198.06 383.22,202.11 383.37,199.92 383.52,197.51 383.67,198.94 383.81,203.17 383.96,202.86 384.11,204.12 384.26,194.87 384.41,203.95 384.55,200.14 384.70,194.81 384.85,196.88 385.00,196.24 385.14,201.15 385.29,197.82 385.44,191.60 385.59,199.93 385.74,198.72 385.88,200.70 386.03,199.89 386.18,198.86 386.33,196.14 386.48,202.31 386.62,203.74 386.77,199.83 386.92,199.36 387.07,196.12 387.22,198.00 387.36,201.62 387.51,198.42 387.66,196.96 387.81,199.20 387.95,200.89 388.10,198.17 388.25,200.95 388.40,205.02 388.55,196.44 388.69,203.49 388.84,200.93 388.99,200.90 389.14,200.96 389.29,200.83 389.43,203.94 389.58,198.69 389.73,200.03 389.88,200.01 390.03,197.26 390.17,197.20 390.32,196.57 390.47,195.21 390.62,198.96 390.77,204.29 390.91,199.62 391.06,200.17 391.21,200.03 391.36,201.82 391.50,202.60 391.65,198.11 391.80,197.66 391.95,203.24 392.10,198.83 392.24,200.73 392.39,201.32 392.54,198.48 392.69,200.44 392.84,201.79 392.98,200.18 393.13,205.65 393.28,201.93 393.43,201.53 393.58,204.09 393.72,199.92 393.87,199.69 394.02,202.01 394.17,200.88 394.31,198.65 394.46,197.64 394.61,202.48 394.76,199.58 394.91,197.74 395.05,200.58 395.20,202.56 395.35,202.56 395.50,201.39 395.65,203.29 395.79,195.24 395.94,202.08 396.09,199.59 396.24,200.12 396.39,198.93 396.53,201.64 396.68,204.07 396.83,196.32 396.98,200.86 397.12,200.36 397.27,200.15 397.42,197.36 397.57,198.67 397.72,197.61 397.86,198.55 398.01,200.32 398.16,200.07 398.31,202.70 398.46,205.86 398.60,201.39 398.75,203.59 398.90,193.98 399.05,196.69 399.20,197.72 399.34,202.26 399.49,195.41 399.64,205.30 399.79,204.01 399.94,202.90 400.08,203.37 400.23,200.52 400.38,200.37 400.53,195.87 400.67,198.27 400.82,197.70 400.97,199.81 401.12,201.30 401.27,202.72 401.41,204.88 401.56,203.21 401.71,201.94 401.86,198.95 402.01,205.37 402.15,204.53 402.30,200.39 402.45,203.72 402.60,200.11 402.75,202.07 402.89,202.96 403.04,204.49 403.19,201.26 403.34,202.92 403.48,202.63 403.63,202.70 403.78,200.56 403.93,200.66 404.08,205.53 404.22,201.49 404.37,200.03 404.52,198.37 404.67,199.05 404.82,200.55 404.96,204.08 405.11,203.11 405.26,198.74 405.41,202.95 405.56,198.46 405.70,197.82 405.85,203.91 406.00,200.01 406.15,201.45 406.30,195.90 406.44,199.00 406.59,202.51 406.74,200.13 406.89,203.58 407.03,201.60 407.18,200.68 407.33,200.83 407.48,200.43 407.63,203.59 407.77,206.05 407.92,202.19 408.07,203.57 408.22,203.08 408.37,195.73 408.51,198.26 408.66,201.74 408.81,205.00 408.96,204.66 409.11,200.37 409.25,198.55 409.40,202.07 409.55,200.98 409.70,200.68 409.84,198.59 409.99,206.21 410.14,200.95 410.29,200.32 410.44,198.92 410.58,200.35 410.73,204.23 410.88,202.89 411.03,205.33 411.18,200.91 411.32,200.92 411.47,200.10 411.62,203.93 411.77,204.37 411.92,197.51 412.06,200.98 412.21,196.96 412.36,200.33 412.51,205.23 412.65,199.41 412.80,198.31 412.95,202.65 413.10,206.45 413.25,199.80 413.39,201.88 413.54,200.81 413.69,208.43 413.84,200.36 413.99,208.61 414.13,203.78 414.28,199.28 414.43,206.25 414.58,206.36 414.73,202.73 414.87,197.36 415.02,197.45 415.17,203.16 415.32,199.05 415.47,200.13 415.61,200.95 415.76,200.72 415.91,203.50 416.06,199.60 416.20,198.94 416.35,194.75 416.50,199.32 416.65,207.95 416.80,204.77 416.94,200.84 417.09,201.53 417.24,206.47 417.39,202.08 417.54,202.64 417.68,201.86 417.83,202.06 417.98,199.40 418.13,198.02 418.28,200.02 418.42,204.61 418.57,203.98 418.72,203.48 418.87,201.94 419.01,202.89 419.16,202.70 419.31,204.16 419.46,199.40 419.61,199.66 419.75,199.41 419.90,202.05 420.05,200.69 420.20,204.17 420.35,204.44 420.49,203.25 420.64,200.39 420.79,202.26 420.94,204.79 421.09,201.66 421.23,200.83 421.38,201.50 421.53,203.61 421.68,201.76 421.82,203.00 421.97,202.77 422.12,202.17 422.27,200.04 422.42,197.33 422.56,198.02 422.71,200.38 422.86,202.99 423.01,202.77 423.16,202.67 423.30,199.09 423.45,209.00 423.60,201.36 423.75,207.06 423.90,202.04 424.04,198.69 424.19,204.34 424.34,207.82 424.49,198.78 424.64,198.26 424.78,200.81 424.93,198.91 425.08,204.11 425.23,199.13 425.37,197.81 425.52,200.49 425.67,201.41 425.82,198.89 425.97,199.28 426.11,204.02 426.26,198.72 426.41,200.28 426.56,201.76 426.71,198.88 426.85,199.84 427.00,200.30 427.15,203.46 427.30,200.10 427.45,204.99 427.59,202.53 427.74,206.47 427.89,206.50 428.04,201.12 428.18,202.44 428.33,202.03 428.48,200.77 428.63,201.38 428.78,204.49 428.92,202.09 429.07,202.45 429.22,203.59 429.37,202.61 429.52,203.22 429.66,203.94 429.81,203.15 429.96,201.74 430.11,197.17 430.26,204.38 430.40,201.04 430.55,206.01 430.70,198.38 430.85,203.20 431.00,202.03 431.14,199.19 431.29,199.92 431.44,206.12 431.59,201.02 431.73,202.98 431.88,200.87 432.03,202.04 432.18,200.60 432.33,201.71 432.47,202.80 432.62,199.52 432.77,206.31 432.92,203.55 433.07,204.86 433.21,202.85 433.36,203.57 433.51,202.87 433.66,203.73 433.81,203.69 433.95,206.62 434.10,202.63 434.25,201.78 434.40,204.04 434.54,204.20 434.69,204.17 434.84,198.41 434.99,202.12 435.14,201.64 435.28,203.35 435.43,203.85 435.58,204.80 435.73,198.81 435.88,206.85 436.02,201.91 436.17,202.72 436.32,203.30 436.47,206.55 436.62,205.74 436.76,200.26 436.91,204.41 437.06,200.53 437.21,201.06 437.35,201.29 437.50,200.85 437.65,205.73 437.80,203.92 437.95,201.08 438.09,205.88 438.24,198.67 438.39,204.16 438.54,202.95 438.69,205.33 438.83,201.91 438.98,204.62 439.13,203.42 439.28,205.64 439.43,199.91 439.57,206.87 439.72,201.75 439.87,202.28 440.02,201.80 440.17,205.39 440.31,200.35 440.46,200.53 440.61,202.52 440.76,202.15 440.90,203.31 441.05,201.36 441.20,204.96 441.35,201.59 441.50,201.96 441.64,206.42 441.79,209.40 441.94,203.27 442.09,203.39 442.24,200.02 442.38,202.87 442.53,204.24 442.68,206.35 442.83,203.25 442.98,204.47 443.12,205.75 443.27,203.36 443.42,200.49 443.57,202.85 443.71,205.64 443.86,202.30 444.01,205.78 444.16,206.96 444.31,201.92 444.45,204.47 444.60,200.43 444.75,202.39 444.90,205.12 445.05,202.63 445.19,200.02 445.34,203.64 445.49,205.77 445.64,204.80 445.79,205.18 445.93,206.08 446.08,206.36 446.23,202.21 446.38,200.55 446.52,204.12 446.67,201.35 446.82,201.06 446.97,199.19 447.12,203.73 447.26,204.13 447.41,202.28 447.56,203.07 447.71,202.58 447.86,200.19 448.00,204.37 448.15,202.82 448.30,205.72 448.45,203.74 448.60,204.99 448.74,205.20 448.89,203.91 449.04,204.47 449.19,202.50 449.34,201.47 449.48,207.01 449.63,201.01 449.78,208.79 449.93,202.84 450.07,201.74 450.22,205.02 450.37,204.02 450.52,205.35 450.67,201.33 450.81,211.12 450.96,205.83 451.11,208.16 451.26,203.06 451.41,200.41 451.55,200.67 451.70,201.94 451.85,202.95 452.00,205.40 452.15,200.65 452.29,202.08 452.44,205.61 452.59,206.66 452.74,205.11 452.88,201.02 453.03,200.63 453.18,199.76 453.33,205.49 453.48,204.50 453.62,200.35 453.77,203.13 453.92,201.84 454.07,206.83 454.22,204.57 454.36,203.73 454.51,204.55 454.66,204.70 454.81,207.61 454.96,199.84 455.10,203.38 455.25,207.20 455.40,201.18 455.55,203.59 455.69,202.05 455.84,204.22 455.99,205.62 456.14,205.57 456.29,202.96 456.43,201.94 456.58,202.62 456.73,202.26 456.88,200.94 457.03,203.12 457.17,201.43 457.32,201.18 457.47,203.12 457.62,204.00 457.77,204.85 457.91,206.67 458.06,207.52 458.21,200.73 458.36,203.87 458.51,205.14 458.65,200.12 458.80,201.56 458.95,203.72 459.10,201.49 459.24,204.32 459.39,203.03 459.54,199.58 459.69,201.39 459.84,204.53 459.98,202.26 460.13,201.11 460.28,204.18" fill="none" stroke="#1a1a1a" stroke-width="0.5" stroke-linejoin="miter"/>
<polyline points="90.55,468.14 90.70,470.51 90.85,470.15 90.99,476.92 91.14,462.78 91.29,464.97 91.44,469.87 91.59,466.21 91.73,467.86 91.88,470.64 92.03,465.54 92.18,469.84 92.33,469.90 92.47,471.45 92.62,467.30 92.77,469.15 92.92,467.01 93.07,470.85 93.21,468.41 93.36,471.80 93.51,466.03 93.66,468.21 93.81,467.74 93.95,467.48 94.10,472.21 94.25,466.25 94.40,462.01 94.55,474.31 94.69,474.62 94.84,473.87 94.99,466.07 95.14,468.44 95.29,465.29 95.43,466.48 95.58,468.18 95.73,467.94 95.88,469.45 96.03,466.01 96.17,472.65 96.32,470.30 96.47,467.99 96.62,462.06 96.77,467.82 96.91,464.41 97.03,461.10 97.06,456.20 97.21,463.83 97.36,462.61 97.51,474.82 97.65,465.15 97.80,465.49 97.95,473.65 98.10,468.43 98.25,464.90 98.39,468.66 98.54,465.63 98.69,461.07 98.84,468.05 98.99,469.89 99.13,471.52 99.28,466.82 99.43,469.62 99.58,469.57 99.73,469.33 99.87,466.82 100.02,472.52 100.17,474.07 100.32,477.07 100.47,465.02 100.61,468.75 100.76,463.99 100.91,469.03 101.06,471.47 101.21,467.43 101.35,469.27 101.50,473.18 101.65,471.96 101.80,463.16 101.95,467.85 102.09,467.65 102.24,469.95 102.39,471.33 102.54,466.08 102.69,469.39 102.83,471.56 102.98,469.50 103.13,472.06 103.28,468.43 103.43,465.32 103.57,471.84 103.72,464.33 103.87,471.28 104.02,468.57 104.17,471.85 104.31,469.82 104.46,468.93 104.61,470.53 104.76,471.42 104.91,471.34 105.05,471.82 105.20,474.30 105.35,469.98 105.50,467.78 105.65,466.10 105.79,466.97 105.94,460.98 106.09,468.07 106.24,470.63 106.39,462.93 106.53,472.60 106.68,465.93 106.83,472.30 106.98,467.97 107.13,475.66 107.27,466.17 107.42,469.67 107.57,472.35 107.72,463.60 107.87,466.63 108.01,469.01 108.16,471.63 108.31,469.31 108.46,469.72 108.61,466.78 108.75,466.54 108.90,471.39 109.05,471.00 109.20,470.95 109.35,473.65 109.49,471.15 109.64,469.50 109.79,466.92 109.94,464.84 110.09,471.88 110.23,467.39 110.38,470.68 110.53,462.36 110.68,469.38 110.83,467.57 110.97,472.32 111.12,471.91 111.27,468.57 111.42,470.51 111.57,468.07 111.71,474.40 111.86,467.06 112.01,472.22 112.16,463.57 112.31,470.21 112.45,465.64 112.60,473.87 112.75,467.85 112.90,472.20 113.05,470.88 113.19,469.19 113.34,470.32 113.49,468.41 113.64,466.82 113.79,467.13 113.93,469.58 114.08,473.79 114.23,471.95 114.38,469.94 114.53,476.30 114.67,466.82 114.82,470.10 114.97,470.14 115.12,466.19 115.27,467.11 115.41,468.59 115.56,472.62 115.71,468.30 115.86,468.19 116.01,472.25 116.15,465.89 116.30,467.66 116.45,475.83 116.60,468.94 116.75,473.51 116.89,465.60 117.04,466.69 117.19,472.99 117.34,472.27 117.49,469.02 117.63,470.14 117.78,464.34 117.93,466.92 118.08,470.30 118.23,467.47 118.37,476.06 118.52,468.35 118.67,466.52 118.82,469.97 118.97,471.72 119.11,467.52 119.26,462.94 119.41,468.71 119.56,473.07 119.71,464.63 119.85,475.57 120.00,467.73 120.15,471.31 120.30,466.33 120.45,472.19 120.59,465.04 120.74,468.41 120.89,475.07 121.04,475.89 121.19,470.44 121.33,465.14 121.48,468.98 121.63,469.18 121.78,470.17 121.93,466.97 122.07,468.16 122.22,468.47 122.37,472.63 122.52,465.49 122.67,464.91 122.81,473.66 122.96,461.82 123.11,467.01 123.26,470.98 123.41,475.63 123.55,467.21 123.70,467.53 123.85,471.31 124.00,475.23 124.15,465.65 124.29,471.26 124.44,470.87 124.59,459.97 124.74,462.31 124.89,466.15 125.03,470.75 125.18,467.11 125.33,476.70 125.48,468.84 125.63,471.65 125.77,473.34 125.92,474.27 126.07,467.31 126.22,468.68 126.37,468.39 126.51,466.08 126.66,471.53 126.81,472.70 126.96,474.35 127.11,469.47 127.25,465.70 127.40,468.47 127.55,465.61 127.70,471.27 127.85,468.54 127.99,468.97 128.14,469.33 128.29,455.30 128.44,448.47 128.59,436.73 128.73,422.31 128.80,418.19 128.80,422.72 128.88,419.52 129.03,440.77 129.18,454.21 129.33,465.52 129.47,467.07 129.62,470.94 129.77,472.25 129.92,470.65 130.07,470.03 130.21,469.04 130.36,468.06 130.51,463.47 130.66,465.96 130.81,469.58 130.95,466.48 131.10,471.21 131.25,464.29 131.40,467.30 131.55,473.60 131.69,466.74 131.84,466.59 131.99,478.09 132.14,471.79 132.29,470.92 132.43,475.71 132.58,472.92 132.73,472.56 132.88,467.82 133.03,468.51 133.17,460.93 133.32,470.82 133.47,465.78 133.62,469.31 133.77,468.69 133.91,473.38 134.06,475.85 134.21,472.12 134.36,467.14 134.51,464.47 134.65,467.67 134.80,468.03 134.95,472.41 135.10,464.66 135.25,465.29 135.39,471.42 135.54,469.85 135.69,472.96 135.84,464.92 135.99,468.39 136.13,470.04 136.28,468.41 136.43,468.30 136.58,471.09 136.73,473.80 136.87,473.95 137.02,475.44 137.17,468.26 137.32,462.54 137.47,475.32 137.61,469.33 137.76,468.45 137.91,473.01 138.06,469.13 138.21,473.38 138.35,465.89 138.50,471.75 138.65,469.49 138.80,467.59 138.95,471.23 139.09,475.67 139.24,471.57 139.39,467.35 139.54,470.12 139.69,469.10 139.83,473.37 139.98,469.39 140.13,467.49 140.28,469.75 140.43,463.65 140.57,470.55 140.72,473.27 140.87,475.15 141.02,466.13 141.17,470.05 141.31,466.31 141.46,466.81 141.61,459.30 141.76,455.14 141.89,458.23 141.91,456.16 142.05,457.00 142.20,469.82 142.35,464.10 142.50,465.80 142.65,466.71 142.79,470.58 142.94,468.95 143.09,473.57 143.24,469.75 143.39,471.86 143.53,469.67 143.68,471.56 143.83,469.03 143.98,466.12 144.13,474.22 144.27,466.96 144.42,476.45 144.57,477.00 144.72,470.36 144.87,469.96 145.01,468.54 145.16,475.34 145.31,470.18 145.46,469.58 145.61,465.92 145.75,470.34 145.90,468.28 146.05,473.18 146.20,470.62 146.35,471.46 146.49,467.73 146.64,473.23 146.79,472.73 146.94,468.15 147.09,464.21 147.23,468.79 147.38,469.05 147.53,471.16 147.68,466.50 147.83,468.29 147.97,464.42 148.12,468.97 148.27,473.13 148.42,471.90 148.57,473.26 148.71,474.12 148.86,465.96 149.01,467.44 149.16,474.09 149.31,464.29 149.45,469.28 149.60,473.18 149.75,468.82 149.90,470.30 150.05,472.59 150.19,476.39 150.34,469.97 150.49,469.14 150.64,478.46 150.79,468.29 150.93,468.01 151.08,470.99 151.23,466.86 151.38,463.10 151.53,459.69 151.60,457.29 151.67,452.60 151.82,466.89 151.97,466.47 152.12,468.89 152.27,472.33 152.41,471.54 152.56,474.66 152.71,472.89 152.86,470.08 153.01,469.07 153.15,473.04 153.30,460.24 153.45,471.98 153.60,469.73 153.75,470.89 153.89,471.44 154.04,465.92 154.19,471.58 154.34,465.04 154.49,463.09 154.63,464.86 154.78,453.30 154.84,458.27 154.93,448.63 155.08,464.23 155.23,470.75 155.37,475.83 155.52,474.28 155.67,472.03 155.82,473.39 155.97,474.13 156.11,472.41 156.26,470.83 156.41,465.48 156.56,475.67 156.71,471.95 156.85,473.25 157.00,475.06 157.15,474.26 157.30,473.08 157.45,467.73 157.59,470.04 157.74,468.91 157.89,460.94 158.04,458.66 158.07,460.12 158.19,459.58 158.33,467.87 158.48,466.54 158.63,468.34 158.78,471.45 158.93,474.09 159.07,465.24 159.22,469.84 159.37,460.29 159.52,472.25 159.67,467.38 159.81,471.53 159.96,469.31 160.11,467.43 160.26,472.70 160.41,470.43 160.55,469.59 160.70,469.73 160.85,468.17 161.00,466.77 161.15,467.39 161.29,469.22 161.44,471.18 161.59,473.69 161.74,472.40 161.89,471.72 162.03,467.80 162.18,471.16 162.33,473.98 162.48,467.93 162.63,472.52 162.77,472.38 162.92,470.61 163.07,468.33 163.22,477.61 163.37,473.41 163.51,469.20 163.66,470.90 163.81,472.46 163.96,471.37 164.11,465.11 164.25,470.98 164.40,467.15 164.55,466.82 164.70,470.73 164.85,467.76 164.99,470.52 165.14,470.91 165.29,472.43 165.44,465.81 165.59,469.72 165.73,469.98 165.88,471.57 166.03,461.80 166.18,464.86 166.33,467.23 166.47,468.51 166.62,470.58 166.77,463.98 166.92,463.06 167.07,466.87 167.21,453.61 167.36,439.62 167.51,413.07 167.66,373.16 167.79,357.58 167.79,355.69 167.81,357.00 167.95,385.33 168.10,414.71 168.25,446.32 168.40,455.09 168.55,458.78 168.69,464.81 168.84,463.89 168.99,463.30 169.14,463.78 169.29,467.26 169.43,469.12 169.58,467.35 169.73,470.32 169.88,469.76 170.03,474.68 170.17,468.04 170.32,471.74 170.47,470.33 170.62,468.79 170.77,467.67 170.91,462.65 171.06,468.08 171.21,473.28 171.36,468.32 171.51,470.62 171.65,467.39 171.80,470.81 171.95,470.80 172.10,470.07 172.25,470.32 172.39,474.01 172.54,470.12 172.69,467.81 172.84,463.66 172.99,468.14 173.13,468.04 173.28,464.57 173.43,464.20 173.58,460.22 173.73,462.72 173.87,463.38 174.02,455.92 174.17,447.47 174.32,437.88 174.47,412.55 174.61,397.57 174.73,387.55 174.73,389.22 174.76,387.74 174.91,402.97 175.06,425.77 175.21,445.87 175.35,455.58 175.50,461.44 175.65,465.93 175.80,469.20 175.95,461.78 176.09,461.74 176.24,468.20 176.39,465.34 176.54,472.37 176.69,472.77 176.83,468.88 176.98,463.51 177.13,471.74 177.28,471.21 177.43,463.51 177.57,474.81 177.72,466.76 177.87,467.33 178.02,469.59 178.17,468.35 178.31,460.57 178.46,472.56 178.61,469.93 178.76,469.64 178.91,471.01 179.05,473.00 179.20,463.49 179.35,467.72 179.50,473.85 179.65,470.24 179.79,466.40 179.94,466.04 180.09,471.50 180.24,466.64 180.39,464.67 180.53,462.28 180.68,456.97 180.83,452.45 180.98,423.57 181.13,414.89 181.20,407.71 181.20,404.33 181.27,416.09 181.42,433.47 181.57,443.95 181.72,458.94 181.87,465.14 182.01,469.01 182.16,461.20 182.31,468.59 182.46,472.12 182.61,469.49 182.75,472.09 182.90,468.18 183.05,470.27 183.20,472.51 183.35,467.40 183.49,471.52 183.64,467.29 183.79,465.70 183.94,470.98 184.09,471.97 184.23,469.36 184.38,467.22 184.53,470.13 184.68,469.74 184.83,470.32 184.97,469.29 185.12,468.32 185.27,472.61 185.42,471.94 185.57,470.29 185.71,472.58 185.86,470.06 186.01,468.81 186.16,470.61 186.31,472.49 186.45,473.06 186.60,465.02 186.75,467.82 186.90,474.21 187.05,473.34 187.19,464.70 187.34,465.87 187.49,470.29 187.64,467.03 187.79,475.46 187.93,470.74 188.08,468.39 188.23,476.69 188.38,473.27 188.53,468.29 188.67,467.19 188.82,472.69 188.97,469.89 189.12,465.73 189.27,472.05 189.41,475.08 189.56,471.04 189.71,472.11 189.86,466.73 190.01,470.36 190.15,473.43 190.30,463.25 190.45,472.48 190.60,469.40 190.75,468.75 190.89,468.42 191.04,470.37 191.19,469.06 191.34,471.14 191.49,475.44 191.63,471.64 191.78,471.57 191.93,471.51 192.08,470.52 192.23,472.94 192.37,466.76 192.52,465.99 192.67,477.96 192.82,470.95 192.97,473.24 193.11,479.26 193.26,469.68 193.41,472.95 193.56,472.19 193.71,473.06 193.85,467.55 194.00,467.07 194.15,470.12 194.30,468.81 194.45,471.36 194.59,470.56 194.74,473.37 194.89,470.90 195.04,473.28 195.19,469.83 195.33,468.39 195.48,470.03 195.63,467.26 195.78,462.48 195.93,477.70 196.07,470.97 196.22,472.82 196.37,472.46 196.52,475.31 196.67,470.84 196.81,471.82 196.96,473.00 197.11,471.80 197.26,472.87 197.41,478.41 197.55,467.56 197.70,471.93 197.85,473.97 198.00,469.98 198.15,473.04 198.29,477.81 198.44,468.10 198.59,476.20 198.74,471.57 198.89,470.47 199.03,466.56 199.18,467.04 199.33,470.25 199.48,473.16 199.63,472.02 199.77,467.21 199.92,464.95 200.07,468.83 200.22,472.52 200.37,467.15 200.51,471.50 200.66,471.50 200.81,470.97 200.96,468.08 201.11,468.91 201.25,466.44 201.40,465.24 201.55,467.43 201.70,476.09 201.85,473.68 201.99,467.31 202.14,467.23 202.29,458.39 202.44,460.59 202.59,451.14 202.73,434.02 202.88,423.72 202.94,426.90 202.94,424.66 203.03,432.27 203.18,443.45 203.33,449.76 203.47,466.57 203.62,462.97 203.77,465.18 203.92,465.57 204.07,465.60 204.21,467.09 204.36,475.97 204.51,472.66 204.66,471.62 204.81,467.03 204.95,473.65 205.10,472.46 205.25,471.51 205.40,466.31 205.55,475.11 205.69,474.92 205.84,468.74 205.99,477.49 206.14,469.79 206.29,472.32 206.43,475.91 206.58,472.30 206.73,474.17 206.88,470.52 207.03,469.93 207.17,466.41 207.32,471.17 207.47,470.84 207.62,473.00 207.77,471.27 207.91,467.91 208.06,477.31 208.21,469.17 208.36,472.95 208.51,471.05 208.65,470.27 208.80,468.63 208.95,470.57 209.10,472.57 209.25,470.36 209.39,471.32 209.54,472.01 209.69,470.73 209.84,468.64 209.99,470.96 210.13,470.92 210.28,475.47 210.43,471.82 210.58,477.28 210.73,469.17 210.87,474.40 211.02,467.38 211.17,462.04 211.32,472.72 211.47,467.29 211.61,470.21 211.76,473.24 211.91,474.14 212.06,469.73 212.21,467.12 212.35,470.40 212.50,476.27 212.65,474.80 212.80,472.25 212.95,467.27 213.09,470.65 213.24,470.52 213.39,467.75 213.54,472.20 213.69,471.84 213.83,472.14 213.98,477.16 214.13,470.11 214.28,470.29 214.43,468.52 214.57,475.33 214.72,474.16 214.87,468.67 215.02,470.59 215.17,467.29 215.31,474.33 215.46,470.99 215.61,473.75 215.76,470.66 215.91,473.16 216.05,469.96 216.20,468.25 216.35,469.53 216.50,477.33 216.65,468.70 216.79,470.26 216.94,474.94 217.09,474.45 217.24,471.65 217.39,469.88 217.53,473.10 217.68,476.78 217.83,470.81 217.98,471.16 218.13,464.04 218.27,475.74 218.42,463.79 218.57,466.24 218.72,470.76 218.87,466.52 219.01,471.42 219.16,468.66 219.31,474.03 219.46,471.48 219.61,474.92 219.75,476.68 219.90,472.60 220.05,473.81 220.20,469.96 220.35,467.78 220.49,472.29 220.64,471.58 220.79,471.18 220.94,477.03 221.09,470.93 221.23,471.75 221.38,471.93 221.53,475.23 221.68,478.00 221.83,472.58 221.97,470.81 222.12,467.61 222.27,468.27 222.42,467.26 222.57,470.66 222.71,468.20 222.86,472.47 223.01,469.86 223.16,468.92 223.31,463.42 223.45,471.08 223.60,475.82 223.75,467.54 223.90,474.32 224.05,472.04 224.19,472.78 224.34,474.70 224.49,467.69 224.64,470.00 224.79,473.78 224.93,471.66 225.08,473.23 225.23,469.96 225.38,473.07 225.53,474.28 225.67,473.91 225.82,473.26 225.97,471.00 226.12,474.78 226.27,472.19 226.41,470.53 226.56,464.62 226.71,469.25 226.86,481.24 227.01,473.52 227.15,473.17 227.30,470.93 227.45,467.04 227.60,469.59 227.75,478.89 227.89,469.88 228.04,468.18 228.19,463.64 228.34,458.16 228.38,465.68 228.49,459.89 228.63,471.95 228.78,469.75 228.93,470.24 229.08,464.76 229.23,474.16 229.37,477.27 229.52,469.85 229.67,474.05 229.82,467.12 229.97,474.21 230.11,474.74 230.26,468.13 230.41,471.74 230.56,468.89 230.71,476.47 230.85,466.88 231.00,473.86 231.15,469.48 231.30,475.16 231.45,476.87 231.59,472.84 231.74,471.50 231.89,467.14 232.04,470.96 232.19,469.83 232.33,470.01 232.48,462.38 232.63,474.61 232.78,468.16 232.93,472.54 233.07,471.26 233.22,473.78 233.37,468.46 233.52,475.99 233.67,476.20 233.81,472.74 233.96,475.70 234.11,469.91 234.26,469.24 234.41,474.45 234.55,469.67 234.70,474.17 234.85,472.25 235.00,472.10 235.15,466.29 235.29,472.13 235.44,474.97 235.59,474.99 235.74,468.41 235.89,477.33 236.03,473.61 236.18,473.33 236.33,479.77 236.48,473.61 236.63,469.05 236.77,471.45 236.92,474.96 237.07,470.03 237.22,470.57 237.37,465.89 237.51,474.49 237.66,473.39 237.81,472.06 237.96,472.62 238.11,471.93 238.25,472.53 238.40,474.36 238.55,477.19 238.70,473.95 238.85,476.53 238.99,475.48 239.14,473.92 239.29,470.66 239.44,469.60 239.59,475.47 239.73,471.31 239.88,469.78 240.03,472.42 240.18,477.38 240.33,478.98 240.47,469.84 240.62,469.44 240.77,471.18 240.92,474.16 241.07,463.36 241.21,460.18 241.32,462.80 241.36,463.50 241.51,471.89 241.66,467.34 241.81,476.69 241.95,470.16 242.10,470.10 242.25,472.08 242.40,467.48 242.55,473.38 242.69,470.56 242.84,469.92 242.99,471.62 243.14,473.69 243.29,468.59 243.43,471.09 243.58,473.00 243.73,472.92 243.88,472.01 244.03,465.35 244.17,472.09 244.32,473.12 244.47,475.41 244.62,474.61 244.77,473.34 244.91,462.38 245.02,461.59 245.06,465.03 245.21,469.79 245.36,470.47 245.51,473.33 245.65,476.48 245.80,471.52 245.95,472.03 246.10,472.63 246.25,470.09 246.39,474.50 246.54,468.28 246.69,475.63 246.84,470.90 246.99,470.53 247.13,473.31 247.28,471.42 247.43,476.48 247.58,477.16 247.73,473.14 247.87,474.78 248.02,470.70 248.17,472.44 248.32,470.63 248.47,471.55 248.61,471.91 248.76,472.26 248.91,473.70 249.06,473.99 249.21,466.28 249.35,478.00 249.50,473.14 249.65,469.47 249.80,471.28 249.95,468.23 250.09,470.89 250.24,476.48 250.39,473.61 250.54,476.93 250.69,469.56 250.83,468.15 250.98,473.97 251.13,470.94 251.28,473.89 251.43,477.06 251.57,474.01 251.72,477.52 251.87,474.40 252.02,472.00 252.17,470.42 252.31,468.67 252.46,473.69 252.61,471.95 252.76,471.38 252.91,470.97 253.05,481.47 253.20,475.09 253.35,470.25 253.50,476.15 253.65,471.95 253.79,470.15 253.94,478.56 254.09,473.31 254.24,472.00 254.39,472.71 254.53,477.45 254.68,471.68 254.83,474.48 254.98,470.23 255.13,471.45 255.27,474.47 255.42,472.24 255.57,474.92 255.72,474.95 255.87,477.67 256.01,473.55 256.16,470.35 256.31,472.49 256.46,472.92 256.61,474.80 256.75,474.49 256.90,470.60 257.05,477.49 257.20,466.57 257.35,473.11 257.49,466.25 257.64,469.32 257.79,474.23 257.94,470.69 258.09,472.17 258.23,471.55 258.38,470.54 258.53,474.67 258.68,474.90 258.83,474.29 258.97,477.21 259.12,473.83 259.27,472.33 259.42,472.27 259.57,472.46 259.71,474.27 259.86,470.65 260.01,479.37 260.16,474.30 260.31,474.10 260.45,470.36 260.60,471.08 260.75,470.67 260.90,473.09 261.05,470.24 261.19,476.24 261.34,472.95 261.49,479.66 261.64,467.94 261.79,468.32 261.93,475.04 262.08,475.82 262.23,479.65 262.38,477.92 262.53,472.86 262.67,473.70 262.82,477.58 262.97,473.75 263.12,471.40 263.27,462.04 263.41,454.77 263.52,455.63 263.56,454.84 263.71,459.98 263.86,473.17 264.01,470.60 264.15,473.00 264.30,470.90 264.45,478.88 264.60,470.92 264.75,475.22 264.89,472.45 265.04,469.56 265.19,477.79 265.34,477.29 265.49,470.23 265.63,476.77 265.78,476.22 265.93,471.44 266.08,473.91 266.23,470.91 266.37,472.37 266.52,473.37 266.67,470.28 266.82,466.60 266.97,473.60 267.11,468.78 267.26,469.84 267.41,472.97 267.56,471.91 267.71,476.18 267.85,475.20 268.00,472.47 268.15,473.46 268.30,469.35 268.45,477.30 268.59,474.23 268.74,475.28 268.89,473.80 269.04,469.78 269.19,477.03 269.33,470.75 269.48,475.15 269.63,474.34 269.78,470.30 269.93,474.22 270.07,471.32 270.22,473.01 270.37,473.88 270.52,474.46 270.67,478.65 270.81,475.64 270.96,472.85 271.11,472.75 271.26,477.92 271.41,470.31 271.55,471.62 271.70,477.34 271.85,476.55 272.00,471.82 272.15,478.74 272.29,475.64 272.44,473.53 272.59,473.76 272.74,473.55 272.89,472.18 273.03,475.81 273.18,474.86 273.33,467.11 273.48,477.65 273.63,474.75 273.77,473.04 273.92,475.35 274.07,469.65 274.22,473.16 274.37,471.07 274.51,481.35 274.66,469.76 274.81,469.88 274.96,475.69 275.11,469.41 275.25,472.58 275.40,470.56 275.55,467.87 275.70,473.08 275.85,476.47 275.99,473.42 276.14,477.28 276.29,475.84 276.44,475.72 276.59,475.56 276.73,469.85 276.88,470.86 277.03,476.13 277.18,469.96 277.33,478.51 277.47,475.40 277.62,473.83 277.77,469.79 277.92,471.20 278.07,472.02 278.21,469.45 278.36,471.23 278.51,469.26 278.66,475.80 278.81,478.54 278.95,474.62 279.10,470.50 279.25,470.88 279.40,465.60 279.55,461.30 279.69,458.99 279.71,458.03 279.84,464.56 279.99,463.83 280.14,474.11 280.29,473.19 280.43,477.64 280.58,471.90 280.73,478.16 280.88,469.19 281.03,477.54 281.17,472.68 281.32,473.90 281.47,476.14 281.62,469.69 281.77,474.79 281.91,469.05 282.06,476.61 282.21,475.93 282.36,479.57 282.51,471.84 282.65,470.74 282.80,472.84 282.95,474.01 283.10,476.32 283.25,466.42 283.39,471.29 283.54,479.13 283.69,474.49 283.84,481.45 283.99,468.78 284.13,467.58 284.28,469.14 284.43,473.73 284.58,475.36 284.73,477.82 284.87,471.97 285.02,475.84 285.17,474.73 285.32,475.53 285.47,474.53 285.61,470.89 285.76,468.50 285.91,473.15 286.06,473.55 286.21,476.98 286.35,477.34 286.50,476.84 286.65,470.95 286.80,472.88 286.95,470.71 287.09,472.36 287.24,474.86 287.39,477.40 287.54,474.76 287.69,477.97 287.83,467.61 287.98,472.85 288.13,474.78 288.28,467.64 288.43,474.83 288.57,471.99 288.72,474.18 288.87,472.60 289.02,474.80 289.17,472.20 289.31,469.38 289.46,477.52 289.61,480.44 289.76,469.62 289.91,473.21 290.05,471.07 290.20,474.60 290.35,469.05 290.50,468.21 290.65,477.29 290.79,471.71 290.94,475.60 291.09,478.65 291.24,474.69 291.39,472.06 291.53,477.94 291.68,477.70 291.83,470.08 291.98,473.73 292.13,472.62 292.27,477.31 292.42,475.84 292.57,473.51 292.72,473.32 292.87,473.46 293.01,469.10 293.16,473.43 293.31,478.59 293.46,476.61 293.61,474.15 293.75,470.12 293.90,476.09 294.05,475.21 294.20,474.11 294.35,476.19 294.49,476.56 294.64,474.79 294.79,471.08 294.94,472.64 295.09,474.98 295.23,472.90 295.38,478.01 295.53,471.12 295.68,471.91 295.83,473.25 295.97,479.10 296.12,468.02 296.27,483.02 296.42,477.20 296.57,476.97 296.71,472.09 296.86,478.73 297.01,473.49 297.16,474.67 297.31,475.10 297.45,471.64 297.60,469.92 297.75,473.03 297.90,475.07 298.05,481.12 298.19,469.80 298.34,475.15 298.49,479.84 298.64,473.77 298.79,469.88 298.93,474.69 299.08,477.79 299.23,467.45 299.38,472.41 299.53,473.22 299.67,471.20 299.82,480.81 299.97,474.48 300.12,474.76 300.27,467.43 300.41,475.97 300.56,475.94 300.71,478.47 300.86,476.75 301.01,474.90 301.15,473.49 301.30,474.88 301.45,468.24 301.60,472.80 301.75,472.37 301.89,470.17 302.04,472.39 302.19,475.88 302.34,478.97 302.49,473.23 302.63,476.82 302.78,470.34 302.93,476.64 303.08,481.04 303.23,474.21 303.37,471.10 303.52,474.97 303.67,473.80 303.82,473.89 303.97,469.16 304.11,473.45 304.26,474.49 304.41,476.23 304.56,479.33 304.71,470.14 304.85,470.93 305.00,477.27 305.15,472.57 305.30,473.43 305.45,475.57 305.59,475.37 305.74,472.16 305.89,478.07 306.04,476.01 306.19,474.68 306.33,474.47 306.48,475.09 306.63,473.81 306.78,472.87 306.93,477.16 307.07,474.22 307.22,476.07 307.37,469.95 307.52,478.72 307.67,475.20 307.81,472.40 307.96,475.36 308.11,475.51 308.26,476.13 308.41,473.58 308.55,478.02 308.70,474.77 308.85,474.83 309.00,478.92 309.15,473.70 309.29,475.92 309.44,473.60 309.59,471.94 309.74,473.49 309.89,478.07 310.03,473.56 310.18,479.32 310.33,476.82 310.48,469.52 310.63,474.51 310.77,469.86 310.92,475.07 311.07,474.50 311.22,477.87 311.37,471.71 311.51,475.13 311.66,472.66 311.81,473.23 311.96,472.93 312.11,473.55 312.25,474.64 312.40,474.52 312.55,476.59 312.70,480.87 312.85,473.06 312.99,468.29 313.14,471.28 313.29,467.53 313.44,473.05 313.59,477.37 313.73,477.43 313.88,472.26 314.03,473.46 314.18,474.97 314.33,472.27 314.47,477.09 314.62,472.92 314.77,475.32 314.92,474.01 315.07,470.94 315.21,474.89 315.36,470.38 315.51,470.52 315.66,476.74 315.81,467.56 315.95,478.17 316.10,474.78 316.25,472.29 316.40,481.28 316.55,471.41 316.69,471.10 316.84,474.83 316.99,473.69 317.14,473.86 317.29,475.13 317.43,471.32 317.58,475.62 317.73,474.65 317.88,473.43 318.03,472.00 318.17,471.25 318.32,478.94 318.47,480.59 318.62,474.96 318.77,474.72 318.91,477.78 319.06,473.66 319.21,472.70 319.36,473.44 319.51,469.68 319.65,477.67 319.80,474.53 319.95,468.87 320.10,472.59 320.25,477.94 320.39,474.02 320.54,471.12 320.69,468.44 320.84,472.67 320.99,471.18 321.13,477.95 321.28,475.40 321.43,471.12 321.58,477.52 321.73,474.86 321.87,480.23 322.02,470.30 322.17,475.09 322.32,473.03 322.47,479.18 322.61,478.62 322.76,469.35 322.91,475.76 323.06,476.36 323.21,473.24 323.35,473.12 323.50,480.59 323.65,477.67 323.80,474.63 323.95,474.78 324.09,473.76 324.24,476.08 324.39,475.64 324.54,474.18 324.69,476.87 324.83,477.30 324.98,476.46 325.13,474.83 325.28,475.30 325.43,476.28 325.57,475.62 325.72,475.03 325.87,473.94 326.02,473.83 326.17,478.70 326.31,472.04 326.46,479.64 326.61,473.32 326.76,477.02 326.91,473.24 327.05,471.84 327.20,480.50 327.35,473.21 327.50,474.18 327.65,476.36 327.79,473.87 327.94,476.47 328.09,474.67 328.24,478.11 328.39,472.74 328.53,473.32 328.68,472.87 328.83,476.98 328.98,469.68 329.13,469.29 329.27,475.34 329.42,476.31 329.57,476.29 329.72,473.09 329.87,472.10 330.01,477.30 330.16,481.05 330.31,473.80 330.46,475.26 330.61,474.65 330.75,473.64 330.90,478.41 331.05,474.98 331.20,476.05 331.35,474.09 331.49,471.64 331.64,475.21 331.79,477.72 331.94,471.60 332.09,473.18 332.23,475.85 332.38,480.52 332.53,477.83 332.68,474.87 332.83,473.71 332.97,476.85 333.12,474.06 333.27,477.18 333.42,476.58 333.57,473.81 333.71,476.15 333.86,474.97 334.01,472.84 334.16,472.11 334.31,477.11 334.45,476.15 334.60,479.27 334.75,479.22 334.90,474.58 335.05,476.96 335.19,480.83 335.34,473.94 335.49,477.91 335.64,476.39 335.79,474.29 335.93,474.35 336.08,475.68 336.23,481.28 336.38,473.89 336.53,477.25 336.67,479.63 336.82,481.92 336.97,471.74 337.12,475.15 337.27,475.24 337.41,473.82 337.56,475.81 337.71,479.84 337.86,473.63 338.01,472.71 338.15,474.11 338.30,471.18 338.45,470.13 338.60,477.91 338.75,476.90 338.89,473.08 339.04,475.13 339.19,475.04 339.34,472.96 339.49,473.53 339.63,476.93 339.78,475.31 339.93,477.71 340.08,476.24 340.23,478.87 340.37,481.32 340.52,477.12 340.67,477.39 340.82,473.14 340.97,471.20 341.11,475.64 341.26,474.37 341.41,477.54 341.56,478.38 341.71,476.55 341.85,476.55 342.00,474.89 342.15,475.42 342.30,471.01 342.45,476.37 342.59,480.47 342.74,475.42 342.89,477.65 343.04,475.19 343.19,472.57 343.33,477.62 343.48,476.00 343.63,474.32 343.78,478.50 343.93,475.19 344.07,474.26 344.22,473.50 344.37,472.69 344.52,474.24 344.67,474.71 344.81,479.79 344.96,483.46 345.11,478.59 345.26,471.80 345.41,475.52 345.55,482.27 345.70,477.06 345.85,474.84 346.00,481.13 346.15,474.25 346.29,479.14 346.44,472.93 346.59,475.81 346.74,467.11 346.89,479.68 347.03,475.11 347.18,480.10 347.33,472.66 347.48,475.57 347.63,473.31 347.77,475.64 347.92,479.25 348.07,477.78 348.22,479.45 348.37,478.91 348.51,475.55 348.66,472.93 348.81,473.54 348.96,474.52 349.11,477.58 349.25,474.54 349.40,478.41 349.55,475.42 349.70,473.64 349.85,476.54 349.99,477.35 350.14,477.25 350.29,474.30 350.44,476.92 350.59,480.06 350.73,477.22 350.88,479.06 351.03,471.84 351.18,476.04 351.33,480.23 351.47,475.34 351.62,474.07 351.77,475.04 351.92,477.12 352.07,475.70 352.21,475.34 352.36,473.31 352.51,475.11 352.66,469.77 352.81,476.75 352.95,471.86 353.10,476.11 353.25,480.95 353.40,479.47 353.55,481.28 353.69,481.01 353.84,472.82 353.99,478.05 354.14,474.52 354.29,478.71 354.43,476.26 354.58,479.18 354.73,473.81 354.88,476.95 355.03,477.51 355.17,476.71 355.32,470.17 355.47,475.02 355.62,473.94 355.77,479.76 355.91,478.11 356.06,475.47 356.21,481.49 356.36,472.58 356.51,475.56 356.65,476.37 356.80,476.89 356.95,476.99 357.10,477.76 357.25,472.47 357.39,474.44 357.54,472.90 357.69,477.22 357.84,478.83 357.99,472.60 358.13,479.79 358.28,478.10 358.43,474.43 358.58,473.39 358.73,480.09 358.87,477.19 359.02,476.36 359.17,476.82 359.32,478.84 359.47,474.58 359.61,477.93 359.76,477.14 359.91,482.74 360.06,476.79 360.21,481.89 360.35,474.54 360.50,475.14 360.65,477.93 360.80,476.07 360.95,476.23 361.09,476.95 361.24,475.54 361.39,476.89 361.54,477.88 361.69,478.77 361.83,471.93 361.98,476.04 362.13,476.64 362.28,474.59 362.43,477.68 362.57,477.66 362.72,474.77 362.87,473.77 363.02,474.77 363.17,480.73 363.31,476.48 363.46,476.71 363.61,475.40 363.76,479.11 363.91,479.57 364.05,477.00 364.20,479.14 364.35,479.63 364.50,476.89 364.65,474.16 364.79,476.34 364.94,473.65 365.09,479.47 365.24,474.79 365.39,476.78 365.53,479.17 365.68,477.91 365.83,479.12 365.98,477.37 366.13,478.83 366.27,473.33 366.42,477.78 366.57,480.70 366.72,477.35 366.87,475.76 367.01,477.69 367.16,474.48 367.31,479.33 367.46,479.18 367.61,472.41 367.75,476.85 367.90,475.38 368.05,475.52 368.20,475.30 368.35,476.77 368.49,477.41 368.64,473.94 368.79,478.24 368.94,476.60 369.09,475.05 369.23,478.00 369.38,481.10 369.53,475.69 369.68,474.01 369.83,476.26 369.97,481.51 370.12,475.22 370.27,471.63 370.42,481.16 370.57,484.33 370.71,477.65 370.86,476.78 371.01,474.88 371.16,474.79 371.31,476.75 371.45,475.55 371.60,476.11 371.75,476.69 371.90,477.18 372.05,477.45 372.19,475.15 372.34,475.96 372.49,478.20 372.64,474.12 372.79,479.02 372.93,477.70 373.08,476.72 373.23,482.20 373.38,478.11 373.53,474.81 373.67,474.92 373.82,480.32 373.97,479.34 374.12,480.01 374.27,477.77 374.41,477.31 374.56,481.42 374.71,476.30 374.86,476.97 375.01,477.36 375.15,478.97 375.30,477.67 375.45,481.94 375.60,476.58 375.75,476.64 375.89,477.49 376.04,480.37 376.19,473.83 376.34,474.22 376.49,482.23 376.63,476.14 376.78,476.84 376.93,484.10 377.08,475.89 377.23,475.54 377.37,475.36 377.52,476.85 377.67,479.02 377.82,478.66 377.97,475.94 378.11,474.20 378.26,478.62 378.41,478.06 378.56,475.48 378.71,483.05 378.85,476.15 379.00,477.96 379.15,483.17 379.30,475.32 379.45,479.79 379.59,475.27 379.74,473.73 379.89,480.68 380.04,480.56 380.19,477.43 380.33,482.03 380.48,475.48 380.63,476.92 380.78,474.82 380.93,482.27 381.07,476.89 381.22,476.21 381.37,482.19 381.52,475.08 381.67,481.09 381.81,476.97 381.96,480.93 382.11,475.38 382.26,472.96 382.41,477.31 382.55,477.38 382.70,474.04 382.85,478.65 383.00,477.34 383.15,475.31 383.29,476.36 383.44,473.32 383.59,474.31 383.74,472.39 383.89,477.50 384.03,474.49 384.18,479.59 384.33,475.04 384.48,472.80 384.63,471.22 384.77,480.71 384.92,477.87 385.07,475.53 385.22,479.73 385.37,475.97 385.51,476.00 385.66,478.70 385.81,478.84 385.96,479.86 386.11,476.63 386.25,474.10 386.40,476.68 386.55,470.15 386.70,481.36 386.85,479.00 386.99,475.70 387.14,480.49 387.29,476.57 387.44,475.35 387.59,477.03 387.73,478.10 387.88,475.04 388.03,476.42 388.18,475.62 388.33,476.10 388.47,479.31 388.62,480.45 388.77,478.56 388.92,477.10 389.07,478.07 389.21,475.09 389.36,476.92 389.51,475.05 389.66,477.30 389.81,479.51 389.95,475.41 390.10,476.33 390.25,479.86 390.40,478.74 390.55,470.32 390.69,486.58 390.84,474.72 390.99,477.55 391.14,477.90 391.29,478.52 391.43,479.09 391.58,471.53 391.73,478.94 391.88,478.59 392.03,475.69 392.17,476.80 392.32,478.29 392.47,478.59 392.62,481.35 392.77,475.01 392.91,480.66 393.06,484.27 393.21,475.13 393.36,475.93 393.51,477.02 393.65,479.30 393.80,474.80 393.95,480.81 394.10,483.74 394.25,477.55 394.39,475.86 394.54,476.36 394.69,472.52 394.84,475.81 394.99,478.62 395.13,478.54 395.28,475.69 395.43,478.21 395.58,478.41 395.73,482.72 395.87,478.89 396.02,481.51 396.17,477.47 396.32,477.74 396.47,476.23 396.61,473.39 396.76,478.60 396.91,474.32 397.06,481.12 397.21,477.73 397.35,475.63 397.50,472.99 397.65,481.08 397.80,478.85 397.95,477.81 398.09,478.45 398.24,480.72 398.39,482.52 398.54,481.45 398.69,478.43 398.83,481.77 398.98,473.55 399.13,475.00 399.28,483.28 399.43,479.56 399.57,474.76 399.72,474.44 399.87,475.33 400.02,482.06 400.17,479.26 400.31,474.93 400.46,478.03 400.61,479.52 400.76,476.99 400.91,475.73 401.05,477.97 401.20,477.70 401.35,475.52 401.50,479.84 401.65,480.77 401.79,476.36 401.94,481.54 402.09,477.08 402.24,480.32 402.39,476.19 402.53,481.54 402.68,475.43 402.83,477.68 402.98,479.23 403.13,480.71 403.27,478.86 403.42,480.89 403.57,481.62 403.72,475.65 403.87,476.91 404.01,475.25 404.16,482.05 404.31,483.62 404.46,482.68 404.61,476.81 404.75,476.41 404.90,483.41 405.05,475.86 405.20,479.70 405.35,481.70 405.49,478.78 405.64,477.09 405.79,479.15 405.94,479.06 406.09,480.82 406.23,482.34 406.38,479.61 406.53,482.89 406.68,477.07 406.83,480.89 406.97,475.22 407.12,482.83 407.27,474.99 407.42,480.99 407.57,481.02 407.71,477.93 407.86,476.34 408.01,478.82 408.16,479.65 408.31,473.50 408.45,477.40 408.60,481.88 408.75,479.43 408.90,474.32 409.05,477.90 409.19,476.61 409.34,473.46 409.49,480.33 409.64,477.81 409.79,480.54 409.93,478.81 410.08,477.40 410.23,482.30 410.38,478.44 410.53,478.46 410.67,476.08 410.82,480.39 410.97,482.17 411.12,477.83 411.27,481.80 411.41,478.40 411.56,477.40 411.71,481.17 411.86,479.21 412.01,481.61 412.15,486.31 412.30,482.72 412.45,484.38 412.60,478.90 412.75,481.74 412.89,479.34 413.04,479.10 413.19,476.22 413.34,479.89 413.49,480.04 413.63,477.69 413.78,474.81 413.93,479.22 414.08,478.14 414.23,479.53 414.37,480.86 414.52,483.05 414.67,479.26 414.82,479.75 414.97,479.71 415.11,473.92 415.26,479.95 415.41,478.22 415.56,479.99 415.71,476.03 415.85,479.85 416.00,474.28 416.15,479.79 416.30,477.10 416.45,476.48 416.59,479.74 416.74,476.92 416.89,478.98 417.04,481.11 417.19,480.89 417.33,478.30 417.48,474.55 417.63,480.44 417.78,477.77 417.93,481.27 418.07,478.53 418.22,482.57 418.37,481.24 418.52,479.23 418.67,481.15 418.81,479.93 418.96,476.63 419.11,479.56 419.26,481.10 419.41,482.44 419.55,480.63 419.70,476.30 419.85,479.48 420.00,479.66 420.15,477.43 420.29,477.14 420.44,476.72 420.59,480.23 420.74,481.67 420.89,483.61 421.03,481.09 421.18,480.29 421.33,477.47 421.48,478.53 421.63,480.81 421.77,477.09 421.92,482.60 422.07,482.08 422.22,482.40 422.37,482.19 422.51,480.05 422.66,481.58 422.81,481.37 422.96,476.00 423.11,483.18 423.25,482.08 423.40,480.06 423.55,478.32 423.70,478.22 423.85,480.15 423.99,480.42 424.14,480.16 424.29,477.59 424.44,481.85 424.59,485.51 424.73,479.04 424.88,482.50 425.03,479.68 425.18,475.99 425.33,479.29 425.47,474.86 425.62,483.61 425.77,478.95 425.92,478.57 426.07,477.46 426.21,481.43 426.36,479.17 426.51,479.28 426.66,479.37 426.81,483.09 426.95,483.99 427.10,478.24 427.25,478.73 427.40,479.52 427.55,478.00 427.69,476.88 427.84,482.58 427.99,477.65 428.14,475.86 428.29,477.05 428.43,478.14 428.58,477.86 428.73,483.30 428.88,480.90 429.03,477.05 429.17,475.89 429.32,478.48 429.47,480.81 429.62,480.00 429.77,477.50 429.91,474.55 430.06,477.66 430.21,480.98 430.36,478.08 430.51,478.56 430.65,473.60 430.80,478.16 430.95,479.58 431.10,479.87 431.25,482.79 431.39,482.35 431.54,480.90 431.69,481.74 431.84,479.22 431.99,479.46 432.13,477.34 432.28,475.90 432.43,479.34 432.58,480.22 432.73,484.42 432.87,478.79 433.02,478.09 433.17,481.70 433.32,480.75 433.47,481.53 433.61,477.11 433.76,478.23 433.91,476.73 434.06,482.83 434.21,473.12 434.35,481.97 434.50,482.40 434.65,479.36 434.80,481.24 434.95,475.29 435.09,480.90 435.24,481.60 435.39,477.44 435.54,476.83 435.69,482.01 435.83,481.11 435.98,480.83 436.13,480.34 436.28,475.65 436.43,476.80 436.57,477.29 436.72,476.78 436.87,479.93 437.02,477.80 437.17,480.18 437.31,481.89 437.46,475.85 437.61,484.42 437.76,480.03 437.91,481.49 438.05,484.21 438.20,481.02 438.35,479.91 438.50,478.94 438.65,482.16 438.79,478.23 438.94,479.35 439.09,478.11 439.24,484.94 439.39,481.28 439.53,481.69 439.68,478.74 439.83,482.02 439.98,481.46 440.13,483.04 440.27,483.18 440.42,482.54 440.57,477.83 440.72,482.88 440.87,486.31 441.01,479.54 441.16,481.40 441.31,478.91 441.46,478.96 441.61,481.08 441.75,481.35 441.90,481.69 442.05,480.35 442.20,482.26 442.35,479.86 442.49,476.92 442.64,482.01 442.79,481.92 442.94,481.95 443.09,478.86 443.23,478.76 443.38,476.84 443.53,478.63 443.68,480.08 443.83,479.27 443.97,483.64 444.12,479.02 444.27,479.98 444.42,475.29 444.57,477.03 444.71,482.46 444.86,481.83 445.01,478.27 445.16,485.54 445.31,482.72 445.45,479.55 445.60,478.88 445.75,480.01 445.90,477.61 446.05,481.15 446.19,480.25 446.34,480.97 446.49,483.19 446.64,480.39 446.79,481.87 446.93,480.32 447.08,486.95 447.23,480.26 447.38,481.87 447.53,482.06 447.67,480.44 447.82,481.72 447.97,478.29 448.12,477.51 448.27,478.41 448.41,478.22 448.56,479.70 448.71,480.52 448.86,483.74 449.01,481.51 449.15,477.65 449.30,478.75 449.45,481.83 449.60,480.37 449.75,478.06 449.89,481.04 450.04,476.69 450.19,482.51 450.34,478.74 450.49,478.98 450.63,480.26 450.78,479.95 450.93,479.38 451.08,486.24 451.23,479.56 451.37,477.92 451.52,479.74 451.67,477.95 451.82,483.61 451.97,480.90 452.11,479.94 452.26,481.39 452.41,477.86 452.56,479.58 452.71,482.01 452.85,478.79 453.00,478.79 453.15,481.85 453.30,479.27 453.45,479.89 453.59,479.95 453.74,483.86 453.89,477.73 454.04,479.26 454.19,480.90 454.33,480.00 454.48,480.04 454.63,481.60 454.78,482.29 454.93,480.64 455.07,482.33 455.22,482.07 455.37,483.72 455.52,481.58 455.67,478.48 455.81,480.41 455.96,480.82 456.11,481.70 456.26,481.98 456.41,484.57 456.55,476.96 456.70,482.72 456.85,484.60 457.00,480.01 457.15,480.38 457.29,482.25 457.44,484.57 457.59,484.34 457.74,477.23 457.89,481.31 458.03,482.61 458.18,476.55 458.33,482.36 458.48,483.28 458.63,479.75 458.77,480.18 458.92,477.30 459.07,484.84 459.22,480.39 459.37,485.18 459.51,479.99 459.66,482.69 459.81,482.23 459.96,482.90 460.11,479.11 460.25,477.23 460.40,481.35 460.55,481.77" fill="none" stroke="#1a1a1a" stroke-width="0.5" stroke-linejoin="miter"/>
<text x="240.80" y="250.70" font-family='"Liberation Serif", "Times New Roman", serif' font-size="14.1" font-weight="normal" fill="#111" text-anchor="start" textLength="69.3" lengthAdjust="spacingAndGlyphs">Pos. [°2Th.]</text>
<text x="241.30" y="529.90" font-family='"Liberation Serif", "Times New Roman", serif' font-size="14.1" font-weight="normal" fill="#111" text-anchor="start" textLength="68.2" lengthAdjust="spacingAndGlyphs">Pos. [°2Th.]</text>
<g transform="translate(16.5,138.4) rotate(-90)"><text x="0.00" y="0.00" font-family='"Liberation Serif", "Times New Roman", serif' font-size="14.1" font-weight="normal" fill="#111" text-anchor="start" textLength="53.1" lengthAdjust="spacingAndGlyphs">Iobs [cts]</text></g>
<g transform="translate(13.6,423.5) rotate(-90)"><text x="0.00" y="0.00" font-family='"Liberation Serif", "Times New Roman", serif' font-size="14.1" font-weight="normal" fill="#111" text-anchor="start" textLength="53.5" lengthAdjust="spacingAndGlyphs">Iobs [cts]</text></g>
<text x="258.80" y="267.00" font-family='"Liberation Serif", "Times New Roman", serif' font-size="10.2" font-weight="normal" fill="#111" text-anchor="start" textLength="11.3" lengthAdjust="spacingAndGlyphs">(<tspan font-weight="bold">a</tspan>)</text>
<text x="258.10" y="545.60" font-family='"Liberation Serif", "Times New Roman", serif' font-size="10.4" font-weight="normal" fill="#111" text-anchor="start" textLength="12.2" lengthAdjust="spacingAndGlyphs">(<tspan font-weight="bold">b</tspan>)</text>
<text x="51.4" y="22.5" font-family='"Liberation Serif", "Times New Roman", serif' font-weight="bold" font-size="10.2" fill="#111" textLength="61.7" lengthAdjust="spacingAndGlyphs">CC - 14<tspan font-size="6.6" dy="-3.9">th</tspan><tspan dy="3.9"> Day</tspan></text>
<text x="49.90" y="30.60" font-family='"Liberation Serif", "Times New Roman", serif' font-size="6.3" font-weight="bold" fill="#16129c" text-anchor="start">M - Mullite</text>
<text x="49.90" y="38.10" font-family='"Liberation Serif", "Times New Roman", serif' font-size="6.3" font-weight="bold" fill="#16129c" text-anchor="start">E - Ettringite</text>
<text x="49.90" y="45.50" font-family='"Liberation Serif", "Times New Roman", serif' font-size="6.3" font-weight="bold" fill="#16129c" text-anchor="start">CH - Portlandite</text>
<text x="49.90" y="52.90" font-family='"Liberation Serif", "Times New Roman", serif' font-size="6.3" font-weight="bold" fill="#16129c" text-anchor="start">CC - Calcite</text>
<text x="49.90" y="61.10" font-family='"Liberation Serif", "Times New Roman", serif' font-size="6.3" font-weight="bold" fill="#16129c" text-anchor="start">CSH - Calcium Silicate Hydrate</text>
<text x="52.1" y="296.3" font-family='"Liberation Serif", "Times New Roman", serif' font-weight="bold" font-size="10.8" fill="#111" textLength="72.8" lengthAdjust="spacingAndGlyphs">FACC - 14<tspan font-size="7" dy="-4.1">th</tspan><tspan dy="4.1"> Day</tspan></text>
<text x="52.80" y="308.60" font-family='"Liberation Serif", "Times New Roman", serif' font-size="7.05" font-weight="bold" fill="#16129c" text-anchor="start">M - Mullite</text>
<text x="52.80" y="317.50" font-family='"Liberation Serif", "Times New Roman", serif' font-size="7.05" font-weight="bold" fill="#16129c" text-anchor="start">E - Ettringite</text>
<text x="52.80" y="326.40" font-family='"Liberation Serif", "Times New Roman", serif' font-size="7.05" font-weight="bold" fill="#16129c" text-anchor="start">CH - Portlandite</text>
<text x="52.80" y="335.40" font-family='"Liberation Serif", "Times New Roman", serif' font-size="7.05" font-weight="bold" fill="#16129c" text-anchor="start">CSH - Calcium Silicate Hydrate</text>
<g font-family='"Liberation Serif", "Times New Roman", serif' font-weight="bold">
<text x="100.2" y="183.9" font-size="10.1" fill="#16129c" text-anchor="start">E</text>
<text x="111.4" y="186.5" font-size="10.1" fill="#16129c" text-anchor="start">CC</text>
<text x="129.7" y="168.4" font-size="10.1" fill="#16129c" text-anchor="start">M</text>
<text x="150.6" y="165.9" font-size="10.1" fill="#16129c" text-anchor="start">M</text>
<text x="171.5" y="48.5" font-size="10.1" fill="#16129c" text-anchor="start">M</text>
<text x="173.3" y="115.5" font-size="10.1" fill="#16129c" text-anchor="start">M</text>
<text x="185.2" y="127.9" font-size="10.1" fill="#16129c" text-anchor="start">CSH</text>
<text x="180.9" y="153.4" font-size="10.1" fill="#16129c" text-anchor="start">M</text>
<text x="188.5" y="174.2" font-size="10.1" fill="#16129c" text-anchor="start">CSH</text>
<text x="223.4" y="176.3" font-size="10.1" fill="#16129c" text-anchor="start">M</text>
<text x="240.4" y="181.0" font-size="10.1" fill="#16129c" text-anchor="start">CC</text>
<text x="261.7" y="175.6" font-size="10.1" fill="#16129c" text-anchor="start">CSH</text>
<text x="283.4" y="191.7" font-size="10.1" fill="#16129c" text-anchor="start">E</text>
<text x="314.6" y="181.4" font-size="10.1" fill="#16129c" text-anchor="start">CH</text>
<text x="356.6" y="190.5" font-size="10.1" fill="#16129c" text-anchor="start">CH</text>
<text x="395.3" y="194.9" font-size="10.1" fill="#16129c" text-anchor="start">E</text>
<text x="429.6" y="197.2" font-size="10.1" fill="#16129c" text-anchor="start">E</text>
<text x="100.2" y="460.8" font-size="10.1" fill="#16129c" text-anchor="start">E</text>
<text x="125.8" y="415.0" font-size="10.1" fill="#16129c" text-anchor="start">M</text>
<text x="129.7" y="445.4" font-size="10.1" fill="#16129c" text-anchor="start">M</text>
<text x="138.7" y="454.3" font-size="10.1" fill="#16129c" text-anchor="start">CSH</text>
<text x="165.4" y="381.2" font-size="10.1" fill="#16129c" text-anchor="start">M</text>
<text x="177.6" y="403.6" font-size="10.1" fill="#16129c" text-anchor="start">CSH</text>
<text x="180.9" y="431.0" font-size="10.1" fill="#16129c" text-anchor="start">M</text>
<text x="202.5" y="423.5" font-size="10.1" fill="#16129c" text-anchor="start">M</text>
<text x="223.0" y="453.3" font-size="10.1" fill="#16129c" text-anchor="start">M</text>
<text x="229.4" y="462.2" font-size="10.1" fill="#16129c" text-anchor="start">CSH</text>
<text x="261.7" y="452.6" font-size="10.1" fill="#16129c" text-anchor="start">CSH</text>
<text x="309.9" y="467.9" font-size="10.1" fill="#16129c" text-anchor="start">CH</text>
<text x="347.2" y="470.3" font-size="10.1" fill="#16129c" text-anchor="start">CH</text>
<text x="394.2" y="472.4" font-size="10.1" fill="#16129c" text-anchor="start">E</text>
<text x="429.1" y="474.8" font-size="10.1" fill="#16129c" text-anchor="start">E</text>
</g>
<defs>
<clipPath id="clipA"><rect x="292.3" y="12" width="211.7" height="139"/></clipPath>
<clipPath id="clipB"><rect x="303" y="286.2" width="199" height="134.7"/></clipPath>
<filter id="blurA" x="-10%" y="-10%" width="120%" height="120%" color-interpolation-filters="sRGB"><feGaussianBlur stdDeviation="2.6"/></filter>
<filter id="blurB" x="-10%" y="-10%" width="120%" height="120%" color-interpolation-filters="sRGB"><feGaussianBlur stdDeviation="3.8"/></filter>
<filter id="noiseA" x="0" y="0" width="100%" height="100%" color-interpolation-filters="sRGB"><feTurbulence type="fractalNoise" baseFrequency="0.11" numOctaves="3" seed="4"/><feColorMatrix type="matrix" values="1.9 0 0 0 -0.45  1.9 0 0 0 -0.45  1.9 0 0 0 -0.45  0 0 0 0 1"/></filter>
<filter id="noiseB" x="0" y="0" width="100%" height="100%" color-interpolation-filters="sRGB"><feTurbulence type="fractalNoise" baseFrequency="0.12" numOctaves="3" seed="9"/><feColorMatrix type="matrix" values="1.2 0 0 0 -0.1  1.2 0 0 0 -0.1  1.2 0 0 0 -0.1  0 0 0 0 1"/></filter>
<filter id="soft" x="-10%" y="-10%" width="120%" height="120%"><feGaussianBlur stdDeviation="1.2"/></filter>
<filter id="speckA" x="0" y="0" width="100%" height="100%" color-interpolation-filters="sRGB"><feTurbulence type="fractalNoise" baseFrequency="0.22" numOctaves="2" seed="11"/><feColorMatrix type="matrix" values="1 0 0 0 0  1 0 0 0 0  1 0 0 0 0  0 0 0 0 1"/><feComponentTransfer><feFuncR type="table" tableValues="0 0 0 0 0.1 0.5 1"/><feFuncG type="table" tableValues="0 0 0 0 0.1 0.5 1"/><feFuncB type="table" tableValues="0 0 0 0 0.1 0.5 1"/></feComponentTransfer></filter>
<filter id="crackA" x="0" y="0" width="100%" height="100%" color-interpolation-filters="sRGB"><feTurbulence type="fractalNoise" baseFrequency="0.2" numOctaves="2" seed="23"/><feColorMatrix type="matrix" values="1 0 0 0 0  1 0 0 0 0  1 0 0 0 0  0 0 0 0 1"/><feComponentTransfer><feFuncR type="table" tableValues="0 0.5 0.9 1 1 1 1"/><feFuncG type="table" tableValues="0 0.5 0.9 1 1 1 1"/><feFuncB type="table" tableValues="0 0.5 0.9 1 1 1 1"/></feComponentTransfer></filter>
<filter id="soft2" x="-10%" y="-10%" width="120%" height="120%"><feGaussianBlur stdDeviation="0.6"/></filter>
<mask id="maskB" maskUnits="userSpaceOnUse" x="300" y="283" width="206" height="142"><rect x="300" y="283" width="206" height="142" fill="#fff"/><path d="M345 286 L388 286 L392 318 L440 322 L445 395 L385 402 L370 345 L352 338 Z" fill="#3a3a3a" filter="url(#blurM)"/></mask>
<filter id="blurM" x="-20%" y="-20%" width="140%" height="140%"><feGaussianBlur stdDeviation="6"/></filter>
</defs>
<g clip-path="url(#clipA)">
<g filter="url(#blurA)"><rect x="280.3" y="0.0" width="22.6" height="22.6" fill="rgb(109,109,109)"/><rect x="302.3" y="0.0" width="10.6" height="22.6" fill="rgb(139,139,139)"/><rect x="312.3" y="0.0" width="10.6" height="22.6" fill="rgb(127,127,127)"/><rect x="322.3" y="0.0" width="10.6" height="22.6" fill="rgb(103,103,103)"/><rect x="332.3" y="0.0" width="10.6" height="22.6" fill="rgb(145,145,145)"/><rect x="342.3" y="0.0" width="10.6" height="22.6" fill="rgb(91,91,91)"/><rect x="352.3" y="0.0" width="10.6" height="22.6" fill="rgb(121,121,121)"/><rect x="362.0" y="0.0" width="10.6" height="22.6" fill="rgb(133,133,133)"/><rect x="372.0" y="0.0" width="10.6" height="22.6" fill="rgb(121,121,121)"/><rect x="382.0" y="0.0" width="10.6" height="22.6" fill="rgb(157,157,157)"/><rect x="392.0" y="0.0" width="10.6" height="22.6" fill="rgb(145,145,145)"/><rect x="402.0" y="0.0" width="10.6" height="22.6" fill="rgb(109,109,109)"/><rect x="412.0" y="0.0" width="10.6" height="22.6" fill="rgb(91,91,91)"/><rect x="422.0" y="0.0" width="10.6" height="22.6" fill="rgb(97,97,97)"/><rect x="432.0" y="0.0" width="10.9" height="22.6" fill="rgb(109,109,109)"/><rect x="442.3" y="0.0" width="10.9" height="22.6" fill="rgb(79,79,79)"/><rect x="452.6" y="0.0" width="10.9" height="22.6" fill="rgb(91,91,91)"/><rect x="462.9" y="0.0" width="10.9" height="22.6" fill="rgb(169,169,169)"/><rect x="473.2" y="0.0" width="10.9" height="22.6" fill="rgb(181,181,181)"/><rect x="483.5" y="0.0" width="10.9" height="22.6" fill="rgb(181,181,181)"/><rect x="493.8" y="0.0" width="22.9" height="22.6" fill="rgb(157,157,157)"/><rect x="280.3" y="22.0" width="22.6" height="10.6" fill="rgb(121,121,121)"/><rect x="302.3" y="22.0" width="10.6" height="10.6" fill="rgb(169,169,169)"/><rect x="312.3" y="22.0" width="10.6" height="10.6" fill="rgb(157,157,157)"/><rect x="322.3" y="22.0" width="10.6" height="10.6" fill="rgb(145,145,145)"/><rect x="332.3" y="22.0" width="10.6" height="10.6" fill="rgb(157,157,157)"/><rect x="342.3" y="22.0" width="10.6" height="10.6" fill="rgb(109,109,109)"/><rect x="352.3" y="22.0" width="10.6" height="10.6" fill="rgb(73,73,73)"/><rect x="362.0" y="22.0" width="10.6" height="10.6" fill="rgb(109,109,109)"/><rect x="372.0" y="22.0" width="10.6" height="10.6" fill="rgb(97,97,97)"/><rect x="382.0" y="22.0" width="10.6" height="10.6" fill="rgb(145,145,145)"/><rect x="392.0" y="22.0" width="10.6" height="10.6" fill="rgb(157,157,157)"/><rect x="402.0" y="22.0" width="10.6" height="10.6" fill="rgb(73,73,73)"/><rect x="412.0" y="22.0" width="10.6" height="10.6" fill="rgb(37,37,37)"/><rect x="422.0" y="22.0" width="10.6" height="10.6" fill="rgb(73,73,73)"/><rect x="432.0" y="22.0" width="10.9" height="10.6" fill="rgb(121,121,121)"/><rect x="442.3" y="22.0" width="10.9" height="10.6" fill="rgb(85,85,85)"/><rect x="452.6" y="22.0" width="10.9" height="10.6" fill="rgb(67,67,67)"/><rect x="462.9" y="22.0" width="10.9" height="10.6" fill="rgb(109,109,109)"/><rect x="473.2" y="22.0" width="10.9" height="10.6" fill="rgb(133,133,133)"/><rect x="483.5" y="22.0" width="10.9" height="10.6" fill="rgb(145,145,145)"/><rect x="493.8" y="22.0" width="22.9" height="10.6" fill="rgb(133,133,133)"/><rect x="280.3" y="32.0" width="22.6" height="10.6" fill="rgb(109,109,109)"/><rect x="302.3" y="32.0" width="10.6" height="10.6" fill="rgb(157,157,157)"/><rect x="312.3" y="32.0" width="10.6" height="10.6" fill="rgb(175,175,175)"/><rect x="322.3" y="32.0" width="10.6" height="10.6" fill="rgb(157,157,157)"/><rect x="332.3" y="32.0" width="10.6" height="10.6" fill="rgb(139,139,139)"/><rect x="342.3" y="32.0" width="10.6" height="10.6" fill="rgb(121,121,121)"/><rect x="352.3" y="32.0" width="10.6" height="10.6" fill="rgb(37,37,37)"/><rect x="362.0" y="32.0" width="10.6" height="10.6" fill="rgb(121,121,121)"/><rect x="372.0" y="32.0" width="10.6" height="10.6" fill="rgb(109,109,109)"/><rect x="382.0" y="32.0" width="10.6" height="10.6" fill="rgb(157,157,157)"/><rect x="392.0" y="32.0" width="10.6" height="10.6" fill="rgb(169,169,169)"/><rect x="402.0" y="32.0" width="10.6" height="10.6" fill="rgb(73,73,73)"/><rect x="412.0" y="32.0" width="10.6" height="10.6" fill="rgb(55,55,55)"/><rect x="422.0" y="32.0" width="10.6" height="10.6" fill="rgb(109,109,109)"/><rect x="432.0" y="32.0" width="10.9" height="10.6" fill="rgb(157,157,157)"/><rect x="442.3" y="32.0" width="10.9" height="10.6" fill="rgb(133,133,133)"/><rect x="452.6" y="32.0" width="10.9" height="10.6" fill="rgb(97,97,97)"/><rect x="462.9" y="32.0" width="10.9" height="10.6" fill="rgb(121,121,121)"/><rect x="473.2" y="32.0" width="10.9" height="10.6" fill="rgb(97,97,97)"/><rect x="483.5" y="32.0" width="10.9" height="10.6" fill="rgb(133,133,133)"/><rect x="493.8" y="32.0" width="22.9" height="10.6" fill="rgb(109,109,109)"/><rect x="280.3" y="42.0" width="22.6" height="10.6" fill="rgb(61,61,61)"/><rect x="302.3" y="42.0" width="10.6" height="10.6" fill="rgb(145,145,145)"/><rect x="312.3" y="42.0" width="10.6" height="10.6" fill="rgb(151,151,151)"/><rect x="322.3" y="42.0" width="10.6" height="10.6" fill="rgb(157,157,157)"/><rect x="332.3" y="42.0" width="10.6" height="10.6" fill="rgb(145,145,145)"/><rect x="342.3" y="42.0" width="10.6" height="10.6" fill="rgb(85,85,85)"/><rect x="352.3" y="42.0" width="10.6" height="10.6" fill="rgb(61,61,61)"/><rect x="362.0" y="42.0" width="10.6" height="10.6" fill="rgb(61,61,61)"/><rect x="372.0" y="42.0" width="10.6" height="10.6" fill="rgb(49,49,49)"/><rect x="382.0" y="42.0" width="10.6" height="10.6" fill="rgb(85,85,85)"/><rect x="392.0" y="42.0" width="10.6" height="10.6" fill="rgb(157,157,157)"/><rect x="402.0" y="42.0" width="10.6" height="10.6" fill="rgb(97,97,97)"/><rect x="412.0" y="42.0" width="10.6" height="10.6" fill="rgb(79,79,79)"/><rect x="422.0" y="42.0" width="10.6" height="10.6" fill="rgb(121,121,121)"/><rect x="432.0" y="42.0" width="10.9" height="10.6" fill="rgb(157,157,157)"/><rect x="442.3" y="42.0" width="10.9" height="10.6" fill="rgb(97,97,97)"/><rect x="452.6" y="42.0" width="10.9" height="10.6" fill="rgb(97,97,97)"/><rect x="462.9" y="42.0" width="10.9" height="10.6" fill="rgb(133,133,133)"/><rect x="473.2" y="42.0" width="10.9" height="10.6" fill="rgb(145,145,145)"/><rect x="483.5" y="42.0" width="10.9" height="10.6" fill="rgb(109,109,109)"/><rect x="493.8" y="42.0" width="22.9" height="10.6" fill="rgb(37,37,37)"/><rect x="280.3" y="52.0" width="22.6" height="10.6" fill="rgb(37,37,37)"/><rect x="302.3" y="52.0" width="10.6" height="10.6" fill="rgb(121,121,121)"/><rect x="312.3" y="52.0" width="10.6" height="10.6" fill="rgb(157,157,157)"/><rect x="322.3" y="52.0" width="10.6" height="10.6" fill="rgb(145,145,145)"/><rect x="332.3" y="52.0" width="10.6" height="10.6" fill="rgb(151,151,151)"/><rect x="342.3" y="52.0" width="10.6" height="10.6" fill="rgb(121,121,121)"/><rect x="352.3" y="52.0" width="10.6" height="10.6" fill="rgb(85,85,85)"/><rect x="362.0" y="52.0" width="10.6" height="10.6" fill="rgb(49,49,49)"/><rect x="372.0" y="52.0" width="10.6" height="10.6" fill="rgb(61,61,61)"/><rect x="382.0" y="52.0" width="10.6" height="10.6" fill="rgb(73,73,73)"/><rect x="392.0" y="52.0" width="10.6" height="10.6" fill="rgb(157,157,157)"/><rect x="402.0" y="52.0" width="10.6" height="10.6" fill="rgb(97,97,97)"/><rect x="412.0" y="52.0" width="10.6" height="10.6" fill="rgb(109,109,109)"/><rect x="422.0" y="52.0" width="10.6" height="10.6" fill="rgb(97,97,97)"/><rect x="432.0" y="52.0" width="10.9" height="10.6" fill="rgb(91,91,91)"/><rect x="442.3" y="52.0" width="10.9" height="10.6" fill="rgb(103,103,103)"/><rect x="452.6" y="52.0" width="10.9" height="10.6" fill="rgb(115,115,115)"/><rect x="462.9" y="52.0" width="10.9" height="10.6" fill="rgb(181,181,181)"/><rect x="473.2" y="52.0" width="10.9" height="10.6" fill="rgb(169,169,169)"/><rect x="483.5" y="52.0" width="10.9" height="10.6" fill="rgb(133,133,133)"/><rect x="493.8" y="52.0" width="22.9" height="10.6" fill="rgb(85,85,85)"/><rect x="280.3" y="62.0" width="22.6" height="10.6" fill="rgb(49,49,49)"/><rect x="302.3" y="62.0" width="10.6" height="10.6" fill="rgb(109,109,109)"/><rect x="312.3" y="62.0" width="10.6" height="10.6" fill="rgb(157,157,157)"/><rect x="322.3" y="62.0" width="10.6" height="10.6" fill="rgb(151,151,151)"/><rect x="332.3" y="62.0" width="10.6" height="10.6" fill="rgb(133,133,133)"/><rect x="342.3" y="62.0" width="10.6" height="10.6" fill="rgb(157,157,157)"/><rect x="352.3" y="62.0" width="10.6" height="10.6" fill="rgb(133,133,133)"/><rect x="362.0" y="62.0" width="10.6" height="10.6" fill="rgb(61,61,61)"/><rect x="372.0" y="62.0" width="10.6" height="10.6" fill="rgb(73,73,73)"/><rect x="382.0" y="62.0" width="10.6" height="10.6" fill="rgb(85,85,85)"/><rect x="392.0" y="62.0" width="10.6" height="10.6" fill="rgb(157,157,157)"/><rect x="402.0" y="62.0" width="10.6" height="10.6" fill="rgb(85,85,85)"/><rect x="412.0" y="62.0" width="10.6" height="10.6" fill="rgb(121,121,121)"/><rect x="422.0" y="62.0" width="10.6" height="10.6" fill="rgb(121,121,121)"/><rect x="432.0" y="62.0" width="10.9" height="10.6" fill="rgb(97,97,97)"/><rect x="442.3" y="62.0" width="10.9" height="10.6" fill="rgb(73,73,73)"/><rect x="452.6" y="62.0" width="10.9" height="10.6" fill="rgb(91,91,91)"/><rect x="462.9" y="62.0" width="10.9" height="10.6" fill="rgb(169,169,169)"/><rect x="473.2" y="62.0" width="10.9" height="10.6" fill="rgb(157,157,157)"/><rect x="483.5" y="62.0" width="10.9" height="10.6" fill="rgb(121,121,121)"/><rect x="493.8" y="62.0" width="22.9" height="10.6" fill="rgb(109,109,109)"/><rect x="280.3" y="72.0" width="22.6" height="10.6" fill="rgb(37,37,37)"/><rect x="302.3" y="72.0" width="10.6" height="10.6" fill="rgb(73,73,73)"/><rect x="312.3" y="72.0" width="10.6" height="10.6" fill="rgb(121,121,121)"/><rect x="322.3" y="72.0" width="10.6" height="10.6" fill="rgb(133,133,133)"/><rect x="332.3" y="72.0" width="10.6" height="10.6" fill="rgb(127,127,127)"/><rect x="342.3" y="72.0" width="10.6" height="10.6" fill="rgb(145,145,145)"/><rect x="352.3" y="72.0" width="10.6" height="10.6" fill="rgb(109,109,109)"/><rect x="362.0" y="72.0" width="10.6" height="10.6" fill="rgb(49,49,49)"/><rect x="372.0" y="72.0" width="10.6" height="10.6" fill="rgb(61,61,61)"/><rect x="382.0" y="72.0" width="10.6" height="10.6" fill="rgb(73,73,73)"/><rect x="392.0" y="72.0" width="10.6" height="10.6" fill="rgb(145,145,145)"/><rect x="402.0" y="72.0" width="10.6" height="10.6" fill="rgb(67,67,67)"/><rect x="412.0" y="72.0" width="10.6" height="10.6" fill="rgb(109,109,109)"/><rect x="422.0" y="72.0" width="10.6" height="10.6" fill="rgb(97,97,97)"/><rect x="432.0" y="72.0" width="10.9" height="10.6" fill="rgb(79,79,79)"/><rect x="442.3" y="72.0" width="10.9" height="10.6" fill="rgb(91,91,91)"/><rect x="452.6" y="72.0" width="10.9" height="10.6" fill="rgb(103,103,103)"/><rect x="462.9" y="72.0" width="10.9" height="10.6" fill="rgb(157,157,157)"/><rect x="473.2" y="72.0" width="10.9" height="10.6" fill="rgb(157,157,157)"/><rect x="483.5" y="72.0" width="10.9" height="10.6" fill="rgb(121,121,121)"/><rect x="493.8" y="72.0" width="22.9" height="10.6" fill="rgb(145,145,145)"/><rect x="280.3" y="82.0" width="22.6" height="10.6" fill="rgb(109,109,109)"/><rect x="302.3" y="82.0" width="10.6" height="10.6" fill="rgb(109,109,109)"/><rect x="312.3" y="82.0" width="10.6" height="10.6" fill="rgb(121,121,121)"/><rect x="322.3" y="82.0" width="10.6" height="10.6" fill="rgb(121,121,121)"/><rect x="332.3" y="82.0" width="10.6" height="10.6" fill="rgb(133,133,133)"/><rect x="342.3" y="82.0" width="10.6" height="10.6" fill="rgb(133,133,133)"/><rect x="352.3" y="82.0" width="10.6" height="10.6" fill="rgb(133,133,133)"/><rect x="362.0" y="82.0" width="10.6" height="10.6" fill="rgb(145,145,145)"/><rect x="372.0" y="82.0" width="10.6" height="10.6" fill="rgb(181,181,181)"/><rect x="382.0" y="82.0" width="10.6" height="10.6" fill="rgb(181,181,181)"/><rect x="392.0" y="82.0" width="10.6" height="10.6" fill="rgb(145,145,145)"/><rect x="402.0" y="82.0" width="10.6" height="10.6" fill="rgb(121,121,121)"/><rect x="412.0" y="82.0" width="10.6" height="10.6" fill="rgb(133,133,133)"/><rect x="422.0" y="82.0" width="10.6" height="10.6" fill="rgb(109,109,109)"/><rect x="432.0" y="82.0" width="10.9" height="10.6" fill="rgb(97,97,97)"/><rect x="442.3" y="82.0" width="10.9" height="10.6" fill="rgb(73,73,73)"/><rect x="452.6" y="82.0" width="10.9" height="10.6" fill="rgb(85,85,85)"/><rect x="462.9" y="82.0" width="10.9" height="10.6" fill="rgb(157,157,157)"/><rect x="473.2" y="82.0" width="10.9" height="10.6" fill="rgb(181,181,181)"/><rect x="483.5" y="82.0" width="10.9" height="10.6" fill="rgb(181,181,181)"/><rect x="493.8" y="82.0" width="22.9" height="10.6" fill="rgb(157,157,157)"/><rect x="280.3" y="92.0" width="22.6" height="10.6" fill="rgb(85,85,85)"/><rect x="302.3" y="92.0" width="10.6" height="10.6" fill="rgb(61,61,61)"/><rect x="312.3" y="92.0" width="10.6" height="10.6" fill="rgb(37,37,37)"/><rect x="322.3" y="92.0" width="10.6" height="10.6" fill="rgb(25,25,25)"/><rect x="332.3" y="92.0" width="10.6" height="10.6" fill="rgb(19,19,19)"/><rect x="342.3" y="92.0" width="10.6" height="10.6" fill="rgb(61,61,61)"/><rect x="352.3" y="92.0" width="10.6" height="10.6" fill="rgb(97,97,97)"/><rect x="362.0" y="92.0" width="10.6" height="10.6" fill="rgb(109,109,109)"/><rect x="372.0" y="92.0" width="10.6" height="10.6" fill="rgb(169,169,169)"/><rect x="382.0" y="92.0" width="10.6" height="10.6" fill="rgb(169,169,169)"/><rect x="392.0" y="92.0" width="10.6" height="10.6" fill="rgb(121,121,121)"/><rect x="402.0" y="92.0" width="10.6" height="10.6" fill="rgb(157,157,157)"/><rect x="412.0" y="92.0" width="10.6" height="10.6" fill="rgb(157,157,157)"/><rect x="422.0" y="92.0" width="10.6" height="10.6" fill="rgb(97,97,97)"/><rect x="432.0" y="92.0" width="10.9" height="10.6" fill="rgb(85,85,85)"/><rect x="442.3" y="92.0" width="10.9" height="10.6" fill="rgb(61,61,61)"/><rect x="452.6" y="92.0" width="10.9" height="10.6" fill="rgb(97,97,97)"/><rect x="462.9" y="92.0" width="10.9" height="10.6" fill="rgb(133,133,133)"/><rect x="473.2" y="92.0" width="10.9" height="10.6" fill="rgb(169,169,169)"/><rect x="483.5" y="92.0" width="10.9" height="10.6" fill="rgb(157,157,157)"/><rect x="493.8" y="92.0" width="22.9" height="10.6" fill="rgb(133,133,133)"/><rect x="280.3" y="102.0" width="22.6" height="10.6" fill="rgb(109,109,109)"/><rect x="302.3" y="102.0" width="10.6" height="10.6" fill="rgb(73,73,73)"/><rect x="312.3" y="102.0" width="10.6" height="10.6" fill="rgb(49,49,49)"/><rect x="322.3" y="102.0" width="10.6" height="10.6" fill="rgb(43,43,43)"/><rect x="332.3" y="102.0" width="10.6" height="10.6" fill="rgb(37,37,37)"/><rect x="342.3" y="102.0" width="10.6" height="10.6" fill="rgb(85,85,85)"/><rect x="352.3" y="102.0" width="10.6" height="10.6" fill="rgb(109,109,109)"/><rect x="362.0" y="102.0" width="10.6" height="10.6" fill="rgb(73,73,73)"/><rect x="372.0" y="102.0" width="10.6" height="10.6" fill="rgb(109,109,109)"/><rect x="382.0" y="102.0" width="10.6" height="10.6" fill="rgb(109,109,109)"/><rect x="392.0" y="102.0" width="10.6" height="10.6" fill="rgb(97,97,97)"/><rect x="402.0" y="102.0" width="10.6" height="10.6" fill="rgb(169,169,169)"/><rect x="412.0" y="102.0" width="10.6" height="10.6" fill="rgb(109,109,109)"/><rect x="422.0" y="102.0" width="10.6" height="10.6" fill="rgb(85,85,85)"/><rect x="432.0" y="102.0" width="10.9" height="10.6" fill="rgb(61,61,61)"/><rect x="442.3" y="102.0" width="10.9" height="10.6" fill="rgb(37,37,37)"/><rect x="452.6" y="102.0" width="10.9" height="10.6" fill="rgb(49,49,49)"/><rect x="462.9" y="102.0" width="10.9" height="10.6" fill="rgb(85,85,85)"/><rect x="473.2" y="102.0" width="10.9" height="10.6" fill="rgb(157,157,157)"/><rect x="483.5" y="102.0" width="10.9" height="10.6" fill="rgb(181,181,181)"/><rect x="493.8" y="102.0" width="22.9" height="10.6" fill="rgb(169,169,169)"/><rect x="280.3" y="112.0" width="22.6" height="10.6" fill="rgb(121,121,121)"/><rect x="302.3" y="112.0" width="10.6" height="10.6" fill="rgb(121,121,121)"/><rect x="312.3" y="112.0" width="10.6" height="10.6" fill="rgb(133,133,133)"/><rect x="322.3" y="112.0" width="10.6" height="10.6" fill="rgb(145,145,145)"/><rect x="332.3" y="112.0" width="10.6" height="10.6" fill="rgb(157,157,157)"/><rect x="342.3" y="112.0" width="10.6" height="10.6" fill="rgb(133,133,133)"/><rect x="352.3" y="112.0" width="10.6" height="10.6" fill="rgb(109,109,109)"/><rect x="362.0" y="112.0" width="10.6" height="10.6" fill="rgb(61,61,61)"/><rect x="372.0" y="112.0" width="10.6" height="10.6" fill="rgb(61,61,61)"/><rect x="382.0" y="112.0" width="10.6" height="10.6" fill="rgb(49,49,49)"/><rect x="392.0" y="112.0" width="10.6" height="10.6" fill="rgb(61,61,61)"/><rect x="402.0" y="112.0" width="10.6" height="10.6" fill="rgb(157,157,157)"/><rect x="412.0" y="112.0" width="10.6" height="10.6" fill="rgb(97,97,97)"/><rect x="422.0" y="112.0" width="10.6" height="10.6" fill="rgb(73,73,73)"/><rect x="432.0" y="112.0" width="10.9" height="10.6" fill="rgb(49,49,49)"/><rect x="442.3" y="112.0" width="10.9" height="10.6" fill="rgb(25,25,25)"/><rect x="452.6" y="112.0" width="10.9" height="10.6" fill="rgb(25,25,25)"/><rect x="462.9" y="112.0" width="10.9" height="10.6" fill="rgb(49,49,49)"/><rect x="473.2" y="112.0" width="10.9" height="10.6" fill="rgb(109,109,109)"/><rect x="483.5" y="112.0" width="10.9" height="10.6" fill="rgb(157,157,157)"/><rect x="493.8" y="112.0" width="22.9" height="10.6" fill="rgb(145,145,145)"/><rect x="280.3" y="122.0" width="22.6" height="10.6" fill="rgb(157,157,157)"/><rect x="302.3" y="122.0" width="10.6" height="10.6" fill="rgb(145,145,145)"/><rect x="312.3" y="122.0" width="10.6" height="10.6" fill="rgb(145,145,145)"/><rect x="322.3" y="122.0" width="10.6" height="10.6" fill="rgb(133,133,133)"/><rect x="332.3" y="122.0" width="10.6" height="10.6" fill="rgb(133,133,133)"/><rect x="342.3" y="122.0" width="10.6" height="10.6" fill="rgb(121,121,121)"/><rect x="352.3" y="122.0" width="10.6" height="10.6" fill="rgb(121,121,121)"/><rect x="362.0" y="122.0" width="10.6" height="10.6" fill="rgb(49,49,49)"/><rect x="372.0" y="122.0" width="10.6" height="10.6" fill="rgb(37,37,37)"/><rect x="382.0" y="122.0" width="10.6" height="10.6" fill="rgb(25,25,25)"/><rect x="392.0" y="122.0" width="10.6" height="10.6" fill="rgb(49,49,49)"/><rect x="402.0" y="122.0" width="10.6" height="10.6" fill="rgb(157,157,157)"/><rect x="412.0" y="122.0" width="10.6" height="10.6" fill="rgb(121,121,121)"/><rect x="422.0" y="122.0" width="10.6" height="10.6" fill="rgb(61,61,61)"/><rect x="432.0" y="122.0" width="10.9" height="10.6" fill="rgb(97,97,97)"/><rect x="442.3" y="122.0" width="10.9" height="10.6" fill="rgb(49,49,49)"/><rect x="452.6" y="122.0" width="10.9" height="10.6" fill="rgb(25,25,25)"/><rect x="462.9" y="122.0" width="10.9" height="10.6" fill="rgb(49,49,49)"/><rect x="473.2" y="122.0" width="10.9" height="10.6" fill="rgb(49,49,49)"/><rect x="483.5" y="122.0" width="10.9" height="10.6" fill="rgb(73,73,73)"/><rect x="493.8" y="122.0" width="22.9" height="10.6" fill="rgb(97,97,97)"/><rect x="280.3" y="132.0" width="22.6" height="10.6" fill="rgb(169,169,169)"/><rect x="302.3" y="132.0" width="10.6" height="10.6" fill="rgb(157,157,157)"/><rect x="312.3" y="132.0" width="10.6" height="10.6" fill="rgb(121,121,121)"/><rect x="322.3" y="132.0" width="10.6" height="10.6" fill="rgb(121,121,121)"/><rect x="332.3" y="132.0" width="10.6" height="10.6" fill="rgb(133,133,133)"/><rect x="342.3" y="132.0" width="10.6" height="10.6" fill="rgb(109,109,109)"/><rect x="352.3" y="132.0" width="10.6" height="10.6" fill="rgb(97,97,97)"/><rect x="362.0" y="132.0" width="10.6" height="10.6" fill="rgb(109,109,109)"/><rect x="372.0" y="132.0" width="10.6" height="10.6" fill="rgb(97,97,97)"/><rect x="382.0" y="132.0" width="10.6" height="10.6" fill="rgb(109,109,109)"/><rect x="392.0" y="132.0" width="10.6" height="10.6" fill="rgb(85,85,85)"/><rect x="402.0" y="132.0" width="10.6" height="10.6" fill="rgb(145,145,145)"/><rect x="412.0" y="132.0" width="10.6" height="10.6" fill="rgb(157,157,157)"/><rect x="422.0" y="132.0" width="10.6" height="10.6" fill="rgb(121,121,121)"/><rect x="432.0" y="132.0" width="10.9" height="10.6" fill="rgb(157,157,157)"/><rect x="442.3" y="132.0" width="10.9" height="10.6" fill="rgb(121,121,121)"/><rect x="452.6" y="132.0" width="10.9" height="10.6" fill="rgb(73,73,73)"/><rect x="462.9" y="132.0" width="10.9" height="10.6" fill="rgb(37,37,37)"/><rect x="473.2" y="132.0" width="10.9" height="10.6" fill="rgb(73,73,73)"/><rect x="483.5" y="132.0" width="10.9" height="10.6" fill="rgb(85,85,85)"/><rect x="493.8" y="132.0" width="22.9" height="10.6" fill="rgb(85,85,85)"/><rect x="280.3" y="142.0" width="22.6" height="22.6" fill="rgb(121,121,121)"/><rect x="302.3" y="142.0" width="10.6" height="22.6" fill="rgb(121,121,121)"/><rect x="312.3" y="142.0" width="10.6" height="22.6" fill="rgb(109,109,109)"/><rect x="322.3" y="142.0" width="10.6" height="22.6" fill="rgb(109,109,109)"/><rect x="332.3" y="142.0" width="10.6" height="22.6" fill="rgb(121,121,121)"/><rect x="342.3" y="142.0" width="10.6" height="22.6" fill="rgb(97,97,97)"/><rect x="352.3" y="142.0" width="10.6" height="22.6" fill="rgb(85,85,85)"/><rect x="362.0" y="142.0" width="10.6" height="22.6" fill="rgb(121,121,121)"/><rect x="372.0" y="142.0" width="10.6" height="22.6" fill="rgb(97,97,97)"/><rect x="382.0" y="142.0" width="10.6" height="22.6" fill="rgb(109,109,109)"/><rect x="392.0" y="142.0" width="10.6" height="22.6" fill="rgb(73,73,73)"/><rect x="402.0" y="142.0" width="10.6" height="22.6" fill="rgb(133,133,133)"/><rect x="412.0" y="142.0" width="10.6" height="22.6" fill="rgb(157,157,157)"/><rect x="422.0" y="142.0" width="10.6" height="22.6" fill="rgb(145,145,145)"/><rect x="432.0" y="142.0" width="10.9" height="22.6" fill="rgb(145,145,145)"/><rect x="442.3" y="142.0" width="10.9" height="22.6" fill="rgb(133,133,133)"/><rect x="452.6" y="142.0" width="10.9" height="22.6" fill="rgb(85,85,85)"/><rect x="462.9" y="142.0" width="10.9" height="22.6" fill="rgb(25,25,25)"/><rect x="473.2" y="142.0" width="10.9" height="22.6" fill="rgb(49,49,49)"/><rect x="483.5" y="142.0" width="10.9" height="22.6" fill="rgb(85,85,85)"/><rect x="493.8" y="142.0" width="22.9" height="22.6" fill="rgb(97,97,97)"/></g>
<rect x="292.3" y="12" width="211.7" height="139" fill="#fff" filter="url(#noiseA)" style="mix-blend-mode:overlay" opacity="0.6"/>
<rect x="292.3" y="12" width="211.7" height="139" filter="url(#speckA)" style="mix-blend-mode:screen" opacity="0.45"/>
<rect x="292.3" y="12" width="211.7" height="139" filter="url(#crackA)" style="mix-blend-mode:multiply" opacity="0.45"/>
<g filter="url(#soft)" opacity="0.9"><rect x="389.8" y="34" width="5.6" height="62" fill="#c4c4c4"/><g stroke="#d0d0d0" stroke-width="1.3" fill="none"><path d="M392 38 L379 13 M392 36 L386 12 M393 36 L399 12 M394 38 L410 15 M391 40 L371 29 M395 40 L414 33"/></g><ellipse cx="354" cy="34" rx="6" ry="10" fill="#202020"/></g>
<g stroke="#dedede" stroke-width="2.2" fill="none" opacity="0.8" filter="url(#soft2)"><path d="M376 99 L396 83 M380 102 L400 86 M385 101 L402 90 M373 94 L389 82 M389 99 L404 92"/></g>
</g>
<g clip-path="url(#clipB)">
<g filter="url(#blurB)"><rect x="291.0" y="274.2" width="22.6" height="22.6" fill="rgb(52,52,52)"/><rect x="313.0" y="274.2" width="10.6" height="22.6" fill="rgb(118,118,118)"/><rect x="323.0" y="274.2" width="10.6" height="22.6" fill="rgb(129,129,129)"/><rect x="333.0" y="274.2" width="10.6" height="22.6" fill="rgb(118,118,118)"/><rect x="343.0" y="274.2" width="10.6" height="22.6" fill="rgb(173,173,173)"/><rect x="353.0" y="274.2" width="10.6" height="22.6" fill="rgb(195,195,195)"/><rect x="363.0" y="274.2" width="10.6" height="22.6" fill="rgb(201,201,201)"/><rect x="373.0" y="274.2" width="10.6" height="22.6" fill="rgb(195,195,195)"/><rect x="383.0" y="274.2" width="10.6" height="22.6" fill="rgb(129,129,129)"/><rect x="393.0" y="274.2" width="10.6" height="22.6" fill="rgb(107,107,107)"/><rect x="403.0" y="274.2" width="10.6" height="22.6" fill="rgb(118,118,118)"/><rect x="413.0" y="274.2" width="10.6" height="22.6" fill="rgb(129,129,129)"/><rect x="423.0" y="274.2" width="10.6" height="22.6" fill="rgb(140,140,140)"/><rect x="433.0" y="274.2" width="10.6" height="22.6" fill="rgb(173,173,173)"/><rect x="432.0" y="274.2" width="10.6" height="22.6" fill="rgb(190,190,190)"/><rect x="442.0" y="274.2" width="10.6" height="22.6" fill="rgb(195,195,195)"/><rect x="452.0" y="274.2" width="10.6" height="22.6" fill="rgb(201,201,201)"/><rect x="462.0" y="274.2" width="10.6" height="22.6" fill="rgb(190,190,190)"/><rect x="472.0" y="274.2" width="10.6" height="22.6" fill="rgb(184,184,184)"/><rect x="482.0" y="274.2" width="10.6" height="22.6" fill="rgb(195,195,195)"/><rect x="492.0" y="274.2" width="22.6" height="22.6" fill="rgb(190,190,190)"/><rect x="291.0" y="296.2" width="22.6" height="10.6" fill="rgb(96,96,96)"/><rect x="313.0" y="296.2" width="10.6" height="10.6" fill="rgb(113,113,113)"/><rect x="323.0" y="296.2" width="10.6" height="10.6" fill="rgb(118,118,118)"/><rect x="333.0" y="296.2" width="10.6" height="10.6" fill="rgb(96,96,96)"/><rect x="343.0" y="296.2" width="10.6" height="10.6" fill="rgb(151,151,151)"/><rect x="353.0" y="296.2" width="10.6" height="10.6" fill="rgb(195,195,195)"/><rect x="363.0" y="296.2" width="10.6" height="10.6" fill="rgb(201,201,201)"/><rect x="373.0" y="296.2" width="10.6" height="10.6" fill="rgb(190,190,190)"/><rect x="383.0" y="296.2" width="10.6" height="10.6" fill="rgb(118,118,118)"/><rect x="393.0" y="296.2" width="10.6" height="10.6" fill="rgb(96,96,96)"/><rect x="403.0" y="296.2" width="10.6" height="10.6" fill="rgb(107,107,107)"/><rect x="413.0" y="296.2" width="10.6" height="10.6" fill="rgb(118,118,118)"/><rect x="423.0" y="296.2" width="10.6" height="10.6" fill="rgb(140,140,140)"/><rect x="433.0" y="296.2" width="10.6" height="10.6" fill="rgb(173,173,173)"/><rect x="432.0" y="296.2" width="10.6" height="10.6" fill="rgb(184,184,184)"/><rect x="442.0" y="296.2" width="10.6" height="10.6" fill="rgb(201,201,201)"/><rect x="452.0" y="296.2" width="10.6" height="10.6" fill="rgb(190,190,190)"/><rect x="462.0" y="296.2" width="10.6" height="10.6" fill="rgb(184,184,184)"/><rect x="472.0" y="296.2" width="10.6" height="10.6" fill="rgb(195,195,195)"/><rect x="482.0" y="296.2" width="10.6" height="10.6" fill="rgb(190,190,190)"/><rect x="492.0" y="296.2" width="22.6" height="10.6" fill="rgb(195,195,195)"/><rect x="291.0" y="306.2" width="22.6" height="10.6" fill="rgb(118,118,118)"/><rect x="313.0" y="306.2" width="10.6" height="10.6" fill="rgb(107,107,107)"/><rect x="323.0" y="306.2" width="10.6" height="10.6" fill="rgb(113,113,113)"/><rect x="333.0" y="306.2" width="10.6" height="10.6" fill="rgb(91,91,91)"/><rect x="343.0" y="306.2" width="10.6" height="10.6" fill="rgb(118,118,118)"/><rect x="353.0" y="306.2" width="10.6" height="10.6" fill="rgb(190,190,190)"/><rect x="363.0" y="306.2" width="10.6" height="10.6" fill="rgb(201,201,201)"/><rect x="373.0" y="306.2" width="10.6" height="10.6" fill="rgb(184,184,184)"/><rect x="383.0" y="306.2" width="10.6" height="10.6" fill="rgb(140,140,140)"/><rect x="393.0" y="306.2" width="10.6" height="10.6" fill="rgb(118,118,118)"/><rect x="403.0" y="306.2" width="10.6" height="10.6" fill="rgb(107,107,107)"/><rect x="413.0" y="306.2" width="10.6" height="10.6" fill="rgb(129,129,129)"/><rect x="423.0" y="306.2" width="10.6" height="10.6" fill="rgb(151,151,151)"/><rect x="433.0" y="306.2" width="10.6" height="10.6" fill="rgb(179,179,179)"/><rect x="432.0" y="306.2" width="10.6" height="10.6" fill="rgb(179,179,179)"/><rect x="442.0" y="306.2" width="10.6" height="10.6" fill="rgb(184,184,184)"/><rect x="452.0" y="306.2" width="10.6" height="10.6" fill="rgb(179,179,179)"/><rect x="462.0" y="306.2" width="10.6" height="10.6" fill="rgb(184,184,184)"/><rect x="472.0" y="306.2" width="10.6" height="10.6" fill="rgb(195,195,195)"/><rect x="482.0" y="306.2" width="10.6" height="10.6" fill="rgb(184,184,184)"/><rect x="492.0" y="306.2" width="22.6" height="10.6" fill="rgb(190,190,190)"/><rect x="291.0" y="316.2" width="22.6" height="10.6" fill="rgb(124,124,124)"/><rect x="313.0" y="316.2" width="10.6" height="10.6" fill="rgb(113,113,113)"/><rect x="323.0" y="316.2" width="10.6" height="10.6" fill="rgb(107,107,107)"/><rect x="333.0" y="316.2" width="10.6" height="10.6" fill="rgb(107,107,107)"/><rect x="343.0" y="316.2" width="10.6" height="10.6" fill="rgb(96,96,96)"/><rect x="353.0" y="316.2" width="10.6" height="10.6" fill="rgb(179,179,179)"/><rect x="363.0" y="316.2" width="10.6" height="10.6" fill="rgb(195,195,195)"/><rect x="373.0" y="316.2" width="10.6" height="10.6" fill="rgb(179,179,179)"/><rect x="383.0" y="316.2" width="10.6" height="10.6" fill="rgb(162,162,162)"/><rect x="393.0" y="316.2" width="10.6" height="10.6" fill="rgb(151,151,151)"/><rect x="403.0" y="316.2" width="10.6" height="10.6" fill="rgb(140,140,140)"/><rect x="413.0" y="316.2" width="10.6" height="10.6" fill="rgb(151,151,151)"/><rect x="423.0" y="316.2" width="10.6" height="10.6" fill="rgb(168,168,168)"/><rect x="433.0" y="316.2" width="10.6" height="10.6" fill="rgb(179,179,179)"/><rect x="432.0" y="316.2" width="10.6" height="10.6" fill="rgb(168,168,168)"/><rect x="442.0" y="316.2" width="10.6" height="10.6" fill="rgb(162,162,162)"/><rect x="452.0" y="316.2" width="10.6" height="10.6" fill="rgb(173,173,173)"/><rect x="462.0" y="316.2" width="10.6" height="10.6" fill="rgb(168,168,168)"/><rect x="472.0" y="316.2" width="10.6" height="10.6" fill="rgb(179,179,179)"/><rect x="482.0" y="316.2" width="10.6" height="10.6" fill="rgb(179,179,179)"/><rect x="492.0" y="316.2" width="22.6" height="10.6" fill="rgb(173,173,173)"/><rect x="291.0" y="326.2" width="22.6" height="10.6" fill="rgb(118,118,118)"/><rect x="313.0" y="326.2" width="10.6" height="10.6" fill="rgb(113,113,113)"/><rect x="323.0" y="326.2" width="10.6" height="10.6" fill="rgb(118,118,118)"/><rect x="333.0" y="326.2" width="10.6" height="10.6" fill="rgb(107,107,107)"/><rect x="343.0" y="326.2" width="10.6" height="10.6" fill="rgb(96,96,96)"/><rect x="353.0" y="326.2" width="10.6" height="10.6" fill="rgb(162,162,162)"/><rect x="363.0" y="326.2" width="10.6" height="10.6" fill="rgb(190,190,190)"/><rect x="373.0" y="326.2" width="10.6" height="10.6" fill="rgb(168,168,168)"/><rect x="383.0" y="326.2" width="10.6" height="10.6" fill="rgb(162,162,162)"/><rect x="393.0" y="326.2" width="10.6" height="10.6" fill="rgb(162,162,162)"/><rect x="403.0" y="326.2" width="10.6" height="10.6" fill="rgb(162,162,162)"/><rect x="413.0" y="326.2" width="10.6" height="10.6" fill="rgb(162,162,162)"/><rect x="423.0" y="326.2" width="10.6" height="10.6" fill="rgb(168,168,168)"/><rect x="433.0" y="326.2" width="10.6" height="10.6" fill="rgb(168,168,168)"/><rect x="432.0" y="326.2" width="10.6" height="10.6" fill="rgb(157,157,157)"/><rect x="442.0" y="326.2" width="10.6" height="10.6" fill="rgb(162,162,162)"/><rect x="452.0" y="326.2" width="10.6" height="10.6" fill="rgb(151,151,151)"/><rect x="462.0" y="326.2" width="10.6" height="10.6" fill="rgb(151,151,151)"/><rect x="472.0" y="326.2" width="10.6" height="10.6" fill="rgb(168,168,168)"/><rect x="482.0" y="326.2" width="10.6" height="10.6" fill="rgb(179,179,179)"/><rect x="492.0" y="326.2" width="22.6" height="10.6" fill="rgb(168,168,168)"/><rect x="291.0" y="336.2" width="22.6" height="10.6" fill="rgb(113,113,113)"/><rect x="313.0" y="336.2" width="10.6" height="10.6" fill="rgb(118,118,118)"/><rect x="323.0" y="336.2" width="10.6" height="10.6" fill="rgb(113,113,113)"/><rect x="333.0" y="336.2" width="10.6" height="10.6" fill="rgb(102,102,102)"/><rect x="343.0" y="336.2" width="10.6" height="10.6" fill="rgb(102,102,102)"/><rect x="353.0" y="336.2" width="10.6" height="10.6" fill="rgb(129,129,129)"/><rect x="363.0" y="336.2" width="10.6" height="10.6" fill="rgb(173,173,173)"/><rect x="373.0" y="336.2" width="10.6" height="10.6" fill="rgb(162,162,162)"/><rect x="383.0" y="336.2" width="10.6" height="10.6" fill="rgb(157,157,157)"/><rect x="393.0" y="336.2" width="10.6" height="10.6" fill="rgb(162,162,162)"/><rect x="403.0" y="336.2" width="10.6" height="10.6" fill="rgb(162,162,162)"/><rect x="413.0" y="336.2" width="10.6" height="10.6" fill="rgb(157,157,157)"/><rect x="423.0" y="336.2" width="10.6" height="10.6" fill="rgb(157,157,157)"/><rect x="433.0" y="336.2" width="10.6" height="10.6" fill="rgb(151,151,151)"/><rect x="432.0" y="336.2" width="10.6" height="10.6" fill="rgb(146,146,146)"/><rect x="442.0" y="336.2" width="10.6" height="10.6" fill="rgb(140,140,140)"/><rect x="452.0" y="336.2" width="10.6" height="10.6" fill="rgb(135,135,135)"/><rect x="462.0" y="336.2" width="10.6" height="10.6" fill="rgb(135,135,135)"/><rect x="472.0" y="336.2" width="10.6" height="10.6" fill="rgb(146,146,146)"/><rect x="482.0" y="336.2" width="10.6" height="10.6" fill="rgb(162,162,162)"/><rect x="492.0" y="336.2" width="22.6" height="10.6" fill="rgb(157,157,157)"/><rect x="291.0" y="346.2" width="22.6" height="10.6" fill="rgb(107,107,107)"/><rect x="313.0" y="346.2" width="10.6" height="10.6" fill="rgb(118,118,118)"/><rect x="323.0" y="346.2" width="10.6" height="10.6" fill="rgb(124,124,124)"/><rect x="333.0" y="346.2" width="10.6" height="10.6" fill="rgb(107,107,107)"/><rect x="343.0" y="346.2" width="10.6" height="10.6" fill="rgb(96,96,96)"/><rect x="353.0" y="346.2" width="10.6" height="10.6" fill="rgb(52,52,52)"/><rect x="363.0" y="346.2" width="10.6" height="10.6" fill="rgb(140,140,140)"/><rect x="373.0" y="346.2" width="10.6" height="10.6" fill="rgb(162,162,162)"/><rect x="383.0" y="346.2" width="10.6" height="10.6" fill="rgb(157,157,157)"/><rect x="393.0" y="346.2" width="10.6" height="10.6" fill="rgb(162,162,162)"/><rect x="403.0" y="346.2" width="10.6" height="10.6" fill="rgb(162,162,162)"/><rect x="413.0" y="346.2" width="10.6" height="10.6" fill="rgb(151,151,151)"/><rect x="423.0" y="346.2" width="10.6" height="10.6" fill="rgb(151,151,151)"/><rect x="433.0" y="346.2" width="10.6" height="10.6" fill="rgb(151,151,151)"/><rect x="432.0" y="346.2" width="10.6" height="10.6" fill="rgb(140,140,140)"/><rect x="442.0" y="346.2" width="10.6" height="10.6" fill="rgb(140,140,140)"/><rect x="452.0" y="346.2" width="10.6" height="10.6" fill="rgb(129,129,129)"/><rect x="462.0" y="346.2" width="10.6" height="10.6" fill="rgb(129,129,129)"/><rect x="472.0" y="346.2" width="10.6" height="10.6" fill="rgb(140,140,140)"/><rect x="482.0" y="346.2" width="10.6" height="10.6" fill="rgb(151,151,151)"/><rect x="492.0" y="346.2" width="22.6" height="10.6" fill="rgb(146,146,146)"/><rect x="291.0" y="352.0" width="22.6" height="10.6" fill="rgb(118,118,118)"/><rect x="313.0" y="352.0" width="10.6" height="10.6" fill="rgb(113,113,113)"/><rect x="323.0" y="352.0" width="10.6" height="10.6" fill="rgb(107,107,107)"/><rect x="333.0" y="352.0" width="10.6" height="10.6" fill="rgb(113,113,113)"/><rect x="343.0" y="352.0" width="10.6" height="10.6" fill="rgb(124,124,124)"/><rect x="353.0" y="352.0" width="10.6" height="10.6" fill="rgb(140,140,140)"/><rect x="363.0" y="352.0" width="10.6" height="10.6" fill="rgb(157,157,157)"/><rect x="373.0" y="352.0" width="10.6" height="10.6" fill="rgb(151,151,151)"/><rect x="383.0" y="352.0" width="10.6" height="10.6" fill="rgb(157,157,157)"/><rect x="393.0" y="352.0" width="10.6" height="10.6" fill="rgb(162,162,162)"/><rect x="403.0" y="352.0" width="10.6" height="10.6" fill="rgb(162,162,162)"/><rect x="413.0" y="352.0" width="10.6" height="10.6" fill="rgb(157,157,157)"/><rect x="423.0" y="352.0" width="10.6" height="10.6" fill="rgb(151,151,151)"/><rect x="433.0" y="352.0" width="10.6" height="10.6" fill="rgb(146,146,146)"/><rect x="432.0" y="352.0" width="10.6" height="10.6" fill="rgb(140,140,140)"/><rect x="442.0" y="352.0" width="10.6" height="10.6" fill="rgb(140,140,140)"/><rect x="452.0" y="352.0" width="10.6" height="10.6" fill="rgb(151,151,151)"/><rect x="462.0" y="352.0" width="10.6" height="10.6" fill="rgb(151,151,151)"/><rect x="472.0" y="352.0" width="10.6" height="10.6" fill="rgb(151,151,151)"/><rect x="482.0" y="352.0" width="10.6" height="10.6" fill="rgb(151,151,151)"/><rect x="492.0" y="352.0" width="22.6" height="10.6" fill="rgb(151,151,151)"/><rect x="291.0" y="362.0" width="22.6" height="10.6" fill="rgb(124,124,124)"/><rect x="313.0" y="362.0" width="10.6" height="10.6" fill="rgb(113,113,113)"/><rect x="323.0" y="362.0" width="10.6" height="10.6" fill="rgb(107,107,107)"/><rect x="333.0" y="362.0" width="10.6" height="10.6" fill="rgb(113,113,113)"/><rect x="343.0" y="362.0" width="10.6" height="10.6" fill="rgb(118,118,118)"/><rect x="353.0" y="362.0" width="10.6" height="10.6" fill="rgb(129,129,129)"/><rect x="363.0" y="362.0" width="10.6" height="10.6" fill="rgb(151,151,151)"/><rect x="373.0" y="362.0" width="10.6" height="10.6" fill="rgb(151,151,151)"/><rect x="383.0" y="362.0" width="10.6" height="10.6" fill="rgb(151,151,151)"/><rect x="393.0" y="362.0" width="10.6" height="10.6" fill="rgb(157,157,157)"/><rect x="403.0" y="362.0" width="10.6" height="10.6" fill="rgb(162,162,162)"/><rect x="413.0" y="362.0" width="10.6" height="10.6" fill="rgb(157,157,157)"/><rect x="423.0" y="362.0" width="10.6" height="10.6" fill="rgb(146,146,146)"/><rect x="433.0" y="362.0" width="10.6" height="10.6" fill="rgb(135,135,135)"/><rect x="432.0" y="362.0" width="10.6" height="10.6" fill="rgb(140,140,140)"/><rect x="442.0" y="362.0" width="10.6" height="10.6" fill="rgb(129,129,129)"/><rect x="452.0" y="362.0" width="10.6" height="10.6" fill="rgb(140,140,140)"/><rect x="462.0" y="362.0" width="10.6" height="10.6" fill="rgb(140,140,140)"/><rect x="472.0" y="362.0" width="10.6" height="10.6" fill="rgb(151,151,151)"/><rect x="482.0" y="362.0" width="10.6" height="10.6" fill="rgb(162,162,162)"/><rect x="492.0" y="362.0" width="22.6" height="10.6" fill="rgb(151,151,151)"/><rect x="291.0" y="372.0" width="22.6" height="10.6" fill="rgb(129,129,129)"/><rect x="313.0" y="372.0" width="10.6" height="10.6" fill="rgb(118,118,118)"/><rect x="323.0" y="372.0" width="10.6" height="10.6" fill="rgb(118,118,118)"/><rect x="333.0" y="372.0" width="10.6" height="10.6" fill="rgb(118,118,118)"/><rect x="343.0" y="372.0" width="10.6" height="10.6" fill="rgb(113,113,113)"/><rect x="353.0" y="372.0" width="10.6" height="10.6" fill="rgb(118,118,118)"/><rect x="363.0" y="372.0" width="10.6" height="10.6" fill="rgb(146,146,146)"/><rect x="373.0" y="372.0" width="10.6" height="10.6" fill="rgb(140,140,140)"/><rect x="383.0" y="372.0" width="10.6" height="10.6" fill="rgb(151,151,151)"/><rect x="393.0" y="372.0" width="10.6" height="10.6" fill="rgb(157,157,157)"/><rect x="403.0" y="372.0" width="10.6" height="10.6" fill="rgb(151,151,151)"/><rect x="413.0" y="372.0" width="10.6" height="10.6" fill="rgb(146,146,146)"/><rect x="423.0" y="372.0" width="10.6" height="10.6" fill="rgb(135,135,135)"/><rect x="433.0" y="372.0" width="10.6" height="10.6" fill="rgb(124,124,124)"/><rect x="432.0" y="372.0" width="10.6" height="10.6" fill="rgb(129,129,129)"/><rect x="442.0" y="372.0" width="10.6" height="10.6" fill="rgb(118,118,118)"/><rect x="452.0" y="372.0" width="10.6" height="10.6" fill="rgb(118,118,118)"/><rect x="462.0" y="372.0" width="10.6" height="10.6" fill="rgb(129,129,129)"/><rect x="472.0" y="372.0" width="10.6" height="10.6" fill="rgb(140,140,140)"/><rect x="482.0" y="372.0" width="10.6" height="10.6" fill="rgb(151,151,151)"/><rect x="492.0" y="372.0" width="22.6" height="10.6" fill="rgb(162,162,162)"/><rect x="291.0" y="382.0" width="22.6" height="10.6" fill="rgb(124,124,124)"/><rect x="313.0" y="382.0" width="10.6" height="10.6" fill="rgb(129,129,129)"/><rect x="323.0" y="382.0" width="10.6" height="10.6" fill="rgb(124,124,124)"/><rect x="333.0" y="382.0" width="10.6" height="10.6" fill="rgb(118,118,118)"/><rect x="343.0" y="382.0" width="10.6" height="10.6" fill="rgb(91,91,91)"/><rect x="353.0" y="382.0" width="10.6" height="10.6" fill="rgb(74,74,74)"/><rect x="363.0" y="382.0" width="10.6" height="10.6" fill="rgb(135,135,135)"/><rect x="373.0" y="382.0" width="10.6" height="10.6" fill="rgb(118,118,118)"/><rect x="383.0" y="382.0" width="10.6" height="10.6" fill="rgb(140,140,140)"/><rect x="393.0" y="382.0" width="10.6" height="10.6" fill="rgb(151,151,151)"/><rect x="403.0" y="382.0" width="10.6" height="10.6" fill="rgb(140,140,140)"/><rect x="413.0" y="382.0" width="10.6" height="10.6" fill="rgb(129,129,129)"/><rect x="423.0" y="382.0" width="10.6" height="10.6" fill="rgb(113,113,113)"/><rect x="433.0" y="382.0" width="10.6" height="10.6" fill="rgb(107,107,107)"/><rect x="432.0" y="382.0" width="10.6" height="10.6" fill="rgb(107,107,107)"/><rect x="442.0" y="382.0" width="10.6" height="10.6" fill="rgb(118,118,118)"/><rect x="452.0" y="382.0" width="10.6" height="10.6" fill="rgb(129,129,129)"/><rect x="462.0" y="382.0" width="10.6" height="10.6" fill="rgb(140,140,140)"/><rect x="472.0" y="382.0" width="10.6" height="10.6" fill="rgb(140,140,140)"/><rect x="482.0" y="382.0" width="10.6" height="10.6" fill="rgb(151,151,151)"/><rect x="492.0" y="382.0" width="22.6" height="10.6" fill="rgb(151,151,151)"/><rect x="291.0" y="392.0" width="22.6" height="10.6" fill="rgb(135,135,135)"/><rect x="313.0" y="392.0" width="10.6" height="10.6" fill="rgb(135,135,135)"/><rect x="323.0" y="392.0" width="10.6" height="10.6" fill="rgb(124,124,124)"/><rect x="333.0" y="392.0" width="10.6" height="10.6" fill="rgb(118,118,118)"/><rect x="343.0" y="392.0" width="10.6" height="10.6" fill="rgb(113,113,113)"/><rect x="353.0" y="392.0" width="10.6" height="10.6" fill="rgb(118,118,118)"/><rect x="363.0" y="392.0" width="10.6" height="10.6" fill="rgb(140,140,140)"/><rect x="373.0" y="392.0" width="10.6" height="10.6" fill="rgb(129,129,129)"/><rect x="383.0" y="392.0" width="10.6" height="10.6" fill="rgb(140,140,140)"/><rect x="393.0" y="392.0" width="10.6" height="10.6" fill="rgb(140,140,140)"/><rect x="403.0" y="392.0" width="10.6" height="10.6" fill="rgb(129,129,129)"/><rect x="413.0" y="392.0" width="10.6" height="10.6" fill="rgb(129,129,129)"/><rect x="423.0" y="392.0" width="10.6" height="10.6" fill="rgb(124,124,124)"/><rect x="433.0" y="392.0" width="10.6" height="10.6" fill="rgb(118,118,118)"/><rect x="432.0" y="392.0" width="10.6" height="10.6" fill="rgb(118,118,118)"/><rect x="442.0" y="392.0" width="10.6" height="10.6" fill="rgb(129,129,129)"/><rect x="452.0" y="392.0" width="10.6" height="10.6" fill="rgb(129,129,129)"/><rect x="462.0" y="392.0" width="10.6" height="10.6" fill="rgb(129,129,129)"/><rect x="472.0" y="392.0" width="10.6" height="10.6" fill="rgb(140,140,140)"/><rect x="482.0" y="392.0" width="10.6" height="10.6" fill="rgb(140,140,140)"/><rect x="492.0" y="392.0" width="22.6" height="10.6" fill="rgb(140,140,140)"/><rect x="291.0" y="402.0" width="22.6" height="10.6" fill="rgb(151,151,151)"/><rect x="313.0" y="402.0" width="10.6" height="10.6" fill="rgb(146,146,146)"/><rect x="323.0" y="402.0" width="10.6" height="10.6" fill="rgb(135,135,135)"/><rect x="333.0" y="402.0" width="10.6" height="10.6" fill="rgb(124,124,124)"/><rect x="343.0" y="402.0" width="10.6" height="10.6" fill="rgb(129,129,129)"/><rect x="353.0" y="402.0" width="10.6" height="10.6" fill="rgb(140,140,140)"/><rect x="363.0" y="402.0" width="10.6" height="10.6" fill="rgb(146,146,146)"/><rect x="373.0" y="402.0" width="10.6" height="10.6" fill="rgb(140,140,140)"/><rect x="383.0" y="402.0" width="10.6" height="10.6" fill="rgb(146,146,146)"/><rect x="393.0" y="402.0" width="10.6" height="10.6" fill="rgb(140,140,140)"/><rect x="403.0" y="402.0" width="10.6" height="10.6" fill="rgb(135,135,135)"/><rect x="413.0" y="402.0" width="10.6" height="10.6" fill="rgb(129,129,129)"/><rect x="423.0" y="402.0" width="10.6" height="10.6" fill="rgb(129,129,129)"/><rect x="433.0" y="402.0" width="10.6" height="10.6" fill="rgb(124,124,124)"/><rect x="432.0" y="402.0" width="10.6" height="10.6" fill="rgb(129,129,129)"/><rect x="442.0" y="402.0" width="10.6" height="10.6" fill="rgb(129,129,129)"/><rect x="452.0" y="402.0" width="10.6" height="10.6" fill="rgb(140,140,140)"/><rect x="462.0" y="402.0" width="10.6" height="10.6" fill="rgb(129,129,129)"/><rect x="472.0" y="402.0" width="10.6" height="10.6" fill="rgb(140,140,140)"/><rect x="482.0" y="402.0" width="10.6" height="10.6" fill="rgb(151,151,151)"/><rect x="492.0" y="402.0" width="22.6" height="10.6" fill="rgb(140,140,140)"/><rect x="291.0" y="412.0" width="22.6" height="22.6" fill="rgb(157,157,157)"/><rect x="313.0" y="412.0" width="10.6" height="22.6" fill="rgb(151,151,151)"/><rect x="323.0" y="412.0" width="10.6" height="22.6" fill="rgb(140,140,140)"/><rect x="333.0" y="412.0" width="10.6" height="22.6" fill="rgb(129,129,129)"/><rect x="343.0" y="412.0" width="10.6" height="22.6" fill="rgb(135,135,135)"/><rect x="353.0" y="412.0" width="10.6" height="22.6" fill="rgb(146,146,146)"/><rect x="363.0" y="412.0" width="10.6" height="22.6" fill="rgb(151,151,151)"/><rect x="373.0" y="412.0" width="10.6" height="22.6" fill="rgb(151,151,151)"/><rect x="383.0" y="412.0" width="10.6" height="22.6" fill="rgb(157,157,157)"/><rect x="393.0" y="412.0" width="10.6" height="22.6" fill="rgb(146,146,146)"/><rect x="403.0" y="412.0" width="10.6" height="22.6" fill="rgb(140,140,140)"/><rect x="413.0" y="412.0" width="10.6" height="22.6" fill="rgb(135,135,135)"/><rect x="423.0" y="412.0" width="10.6" height="22.6" fill="rgb(129,129,129)"/><rect x="433.0" y="412.0" width="10.6" height="22.6" fill="rgb(124,124,124)"/><rect x="432.0" y="412.0" width="10.6" height="22.6" fill="rgb(129,129,129)"/><rect x="442.0" y="412.0" width="10.6" height="22.6" fill="rgb(129,129,129)"/><rect x="452.0" y="412.0" width="10.6" height="22.6" fill="rgb(129,129,129)"/><rect x="462.0" y="412.0" width="10.6" height="22.6" fill="rgb(129,129,129)"/><rect x="472.0" y="412.0" width="10.6" height="22.6" fill="rgb(140,140,140)"/><rect x="482.0" y="412.0" width="10.6" height="22.6" fill="rgb(140,140,140)"/><rect x="492.0" y="412.0" width="22.6" height="22.6" fill="rgb(140,140,140)"/></g>
<rect x="303" y="286.2" width="199" height="134.7" fill="#fff" filter="url(#noiseB)" style="mix-blend-mode:overlay" opacity="0.6" mask="url(#maskB)"/>
<rect x="303" y="286.2" width="199" height="134.7" filter="url(#speckA)" style="mix-blend-mode:screen" opacity="0.2"/>
<rect x="303" y="286.2" width="199" height="134.7" filter="url(#crackA)" style="mix-blend-mode:multiply" opacity="0.25"/>
<g filter="url(#soft)" opacity="0.85"><ellipse cx="336" cy="318" rx="4" ry="6" fill="#555"/><ellipse cx="346" cy="334" rx="4" ry="5" fill="#4a4a4a"/><ellipse cx="322" cy="300" rx="5" ry="4" fill="#666"/><ellipse cx="341" cy="300" rx="3" ry="6" fill="#666"/><ellipse cx="361" cy="346" rx="5" ry="4" fill="#2a2a2a"/><ellipse cx="362" cy="389" rx="6" ry="5" fill="#333"/><ellipse cx="306" cy="290" rx="6" ry="6" fill="#2a2a2a"/></g>
</g>
<g><line x1="346.4" y1="40.7" x2="310.5" y2="42.4" stroke="#ebaa10" stroke-width="1.1"/><polygon points="310.1,42.4 314.0,40.5 314.2,43.9" fill="#ebaa10"/><line x1="346.4" y1="40.7" x2="351.5" y2="21.9" stroke="#ebaa10" stroke-width="1.1"/><polygon points="351.6,21.5 352.2,25.8 348.9,24.9" fill="#ebaa10"/><line x1="346.4" y1="40.7" x2="338.8" y2="32.1" stroke="#ebaa10" stroke-width="1.1"/><polygon points="338.5,31.8 342.5,33.7 339.9,35.9" fill="#ebaa10"/><text x="342.60" y="49.90" font-family='"Liberation Serif", "Times New Roman", serif' font-size="7.6" font-weight="bold" fill="#ecec1c" text-anchor="start" textLength="14.6" lengthAdjust="spacingAndGlyphs">CSH</text><line x1="327.9" y1="79.8" x2="351.2" y2="62.1" stroke="#ebaa10" stroke-width="1.1"/><polygon points="351.5,61.9 349.4,65.6 347.3,62.9" fill="#ebaa10"/><text x="315.10" y="87.90" font-family='"Liberation Serif", "Times New Roman", serif' font-size="7.6" font-weight="bold" fill="#ecec1c" text-anchor="start" textLength="14.9" lengthAdjust="spacingAndGlyphs">CSH</text><line x1="464.8" y1="41.9" x2="429.1" y2="28.4" stroke="#ebaa10" stroke-width="1.1"/><polygon points="428.7,28.3 433.1,28.1 431.9,31.3" fill="#ebaa10"/><line x1="464.8" y1="41.9" x2="437.4" y2="40.0" stroke="#ebaa10" stroke-width="1.1"/><polygon points="437.0,40.0 441.1,38.6 440.9,41.9" fill="#ebaa10"/><line x1="464.8" y1="41.9" x2="466.8" y2="78.1" stroke="#ebaa10" stroke-width="1.1"/><polygon points="466.8,78.5 464.9,74.6 468.3,74.4" fill="#ebaa10"/><text x="467.80" y="46.40" font-family='"Liberation Serif", "Times New Roman", serif' font-size="7.6" font-weight="bold" fill="#ecec1c" text-anchor="start" textLength="14.8" lengthAdjust="spacingAndGlyphs">CSH</text><line x1="407.2" y1="50.7" x2="446.5" y2="83.3" stroke="#ebaa10" stroke-width="1.1"/><polygon points="446.8,83.6 442.6,82.3 444.8,79.7" fill="#ebaa10"/><polygon points="406.9,50.4 411.1,51.7 408.9,54.3" fill="#ebaa10"/><line x1="431.2" y1="73.1" x2="415.1" y2="94.7" stroke="#ebaa10" stroke-width="1.1"/><polygon points="414.9,95.0 415.9,90.8 418.6,92.8" fill="#ebaa10"/><text x="438.40" y="74.00" font-family='"Liberation Serif", "Times New Roman", serif' font-size="7.6" font-weight="bold" fill="#ecec1c" text-anchor="start" textLength="14.5" lengthAdjust="spacingAndGlyphs">CSH</text><line x1="322.4" y1="140.4" x2="309.5" y2="126.0" stroke="#ebaa10" stroke-width="1.1"/><polygon points="309.2,125.7 313.2,127.5 310.6,129.8" fill="#ebaa10"/><line x1="322.4" y1="140.4" x2="334.7" y2="113.7" stroke="#ebaa10" stroke-width="1.1"/><polygon points="334.9,113.3 334.7,117.7 331.6,116.3" fill="#ebaa10"/><text x="325.30" y="147.20" font-family='"Liberation Serif", "Times New Roman", serif' font-size="7.6" font-weight="bold" fill="#ecec1c" text-anchor="start" textLength="15.0" lengthAdjust="spacingAndGlyphs">CSH</text><ellipse cx="379" cy="91.2" rx="26.2" ry="13.8" fill="none" stroke="#d99a0c" stroke-width="1.1"/><line x1="364.4" y1="109.6" x2="371.7" y2="89.5" stroke="#ebaa10" stroke-width="1.1"/><polygon points="371.8,89.1 372.1,93.5 368.9,92.3" fill="#ebaa10"/><text x="359.00" y="117.00" font-family='"Liberation Serif", "Times New Roman", serif' font-size="6.4" font-weight="bold" fill="#ecec1c" text-anchor="start" textLength="53.4" lengthAdjust="spacingAndGlyphs">Long and Needle Like</text><text x="359.00" y="123.90" font-family='"Liberation Serif", "Times New Roman", serif' font-size="6.4" font-weight="bold" fill="#ecec1c" text-anchor="start" textLength="23.0" lengthAdjust="spacingAndGlyphs">Ettringite</text><line x1="435.0" y1="135.3" x2="444.8" y2="125.0" stroke="#ebaa10" stroke-width="1.1"/><polygon points="445.1,124.7 443.6,128.8 441.1,126.4" fill="#ebaa10"/><text x="420.20" y="142.50" font-family='"Liberation Serif", "Times New Roman", serif' font-size="7.6" font-weight="bold" fill="#ecec1c" text-anchor="start" textLength="16.8" lengthAdjust="spacingAndGlyphs">Voids</text><line x1="485.3" y1="118.9" x2="495.5" y2="105.5" stroke="#ebaa10" stroke-width="1.1"/><polygon points="495.7,105.2 494.7,109.4 492.0,107.3" fill="#ebaa10"/><text x="480.10" y="126.00" font-family='"Liberation Serif", "Times New Roman", serif' font-size="7.6" font-weight="bold" fill="#ecec1c" text-anchor="start" textLength="14.4" lengthAdjust="spacingAndGlyphs">CSH</text><text x="315.00" y="350.30" font-family='"Liberation Serif", "Times New Roman", serif' font-size="6.8" font-weight="bold" fill="#ecec1c" text-anchor="start" textLength="22.9" lengthAdjust="spacingAndGlyphs">Ettringite</text><line x1="325.9" y1="353.3" x2="330.3" y2="366.5" stroke="#eeb020" stroke-width="1.0"/><polygon points="330.4,366.9 327.9,363.9 330.7,363.0" fill="#eeb020"/><ellipse cx="325.3" cy="367.8" rx="18.4" ry="10.7" fill="none" stroke="#dca21c" stroke-width="1.0"/><line x1="377.8" y1="369.7" x2="359.0" y2="337.7" stroke="#eeb020" stroke-width="1.0"/><polygon points="358.8,337.4 361.9,339.7 359.3,341.2" fill="#eeb020"/><line x1="377.8" y1="369.7" x2="351.1" y2="363.0" stroke="#eeb020" stroke-width="1.0"/><polygon points="350.7,362.9 354.6,362.3 353.8,365.2" fill="#eeb020"/><line x1="377.8" y1="369.7" x2="353.6" y2="389.5" stroke="#eeb020" stroke-width="1.0"/><polygon points="353.3,389.8 355.1,386.3 357.0,388.6" fill="#eeb020"/><text x="380.80" y="372.30" font-family='"Liberation Serif", "Times New Roman", serif' font-size="6.6" font-weight="bold" fill="#ecec1c" text-anchor="start" textLength="14.0" lengthAdjust="spacingAndGlyphs">CSH</text><line x1="382.8" y1="314.9" x2="440.9" y2="336.6" stroke="#eeb020" stroke-width="1.0"/><polygon points="441.3,336.7 437.4,336.9 438.4,334.1" fill="#eeb020"/><polygon points="382.4,314.8 386.3,314.6 385.3,317.4" fill="#eeb020"/><line x1="400.4" y1="319.7" x2="403.8" y2="336.4" stroke="#eeb020" stroke-width="1.0"/><polygon points="403.9,336.8 401.7,333.6 404.6,333.0" fill="#eeb020"/><text x="394.30" y="314.70" font-family='"Liberation Serif", "Times New Roman", serif' font-size="6.3" font-weight="bold" fill="#ecec1c" text-anchor="start" textLength="13.4" lengthAdjust="spacingAndGlyphs">CSH</text><ellipse cx="463.9" cy="337.9" rx="18.3" ry="10.9" fill="none" stroke="#dca21c" stroke-width="1.0"/><line x1="464.3" y1="353.2" x2="468.9" y2="337.3" stroke="#eeb020" stroke-width="1.0"/><polygon points="469.0,336.9 469.5,340.8 466.6,340.0" fill="#eeb020"/><text x="444.90" y="358.10" font-family='"Liberation Serif", "Times New Roman", serif' font-size="6.6" font-weight="bold" fill="#ecec1c" text-anchor="start" textLength="42.7" lengthAdjust="spacingAndGlyphs">Flaky and Slender</text><text x="444.90" y="364.50" font-family='"Liberation Serif", "Times New Roman", serif' font-size="6.6" font-weight="bold" fill="#ecec1c" text-anchor="start" textLength="22.5" lengthAdjust="spacingAndGlyphs">Ettringite</text><line x1="434.4" y1="385.0" x2="491.7" y2="406.3" stroke="#eeb020" stroke-width="1.0"/><polygon points="492.1,406.4 488.2,406.6 489.2,403.8" fill="#eeb020"/><polygon points="434.0,384.9 437.9,384.7 436.9,387.5" fill="#eeb020"/><line x1="451.7" y1="389.7" x2="454.8" y2="406.3" stroke="#eeb020" stroke-width="1.0"/><polygon points="454.9,406.7 452.7,403.4 455.7,402.9" fill="#eeb020"/><text x="444.90" y="385.00" font-family='"Liberation Serif", "Times New Roman", serif' font-size="6.6" font-weight="bold" fill="#ecec1c" text-anchor="start" textLength="13.6" lengthAdjust="spacingAndGlyphs">CSH</text></g>
<rect x="292.3" y="151.0" width="211.7" height="9.7" fill="#050505"/><g fill="none" stroke="#bcd8e6" stroke-width="0.5"><ellipse cx="298.2" cy="155.85" rx="3.6" ry="1.4"/><ellipse cx="298.2" cy="155.85" rx="3.6" ry="1.4" transform="rotate(60 298.2 155.85)"/><ellipse cx="298.2" cy="155.85" rx="3.6" ry="1.4" transform="rotate(-60 298.2 155.85)"/></g><circle cx="298.2" cy="155.85" r="0.8" fill="#4aa0d0"/><g font-family='"Liberation Sans", Arial, sans-serif' font-size="3.3" fill="#d8d8d8"><text x="307.6" y="155.3" textLength="17">7/30/2022</text><text x="305.6" y="159.9" textLength="19.6">10:16:44 AM</text></g><rect x="328.0" y="151.8" width="19.0" height="8.3" fill="#f4f4f0"/><circle cx="331.3" cy="155.8" r="2.1" fill="#3b6fb8" stroke="#e0b030" stroke-width="0.5"/><text x="333.6" y="157.5" font-family='"Liberation Serif", "Times New Roman", serif' font-weight="bold" font-size="5.2" fill="#3563b0" textLength="11.5" lengthAdjust="spacingAndGlyphs">SRM</text><g font-family='"Liberation Sans", Arial, sans-serif' font-size="3.3"><line x1="347.7" y1="151.6" x2="347.7" y2="160.1" stroke="#555" stroke-width="0.4"/><text x="348.9" y="155.3" fill="#bbbbbb">mag</text><text x="348.9" y="159.9" fill="#ffffff" font-weight="bold">15 000 x</text><line x1="360.8" y1="151.6" x2="360.8" y2="160.1" stroke="#555" stroke-width="0.4"/><text x="362.0" y="155.3" fill="#bbbbbb">⊡</text><text x="362.0" y="159.9" fill="#ffffff" font-weight="bold"></text><line x1="366.3" y1="151.6" x2="366.3" y2="160.1" stroke="#555" stroke-width="0.4"/><text x="367.5" y="155.3" fill="#bbbbbb">use case</text><text x="367.5" y="159.9" fill="#ffffff" font-weight="bold">Standard</text><line x1="385.7" y1="151.6" x2="385.7" y2="160.1" stroke="#555" stroke-width="0.4"/><text x="386.9" y="155.3" fill="#bbbbbb">HV</text><text x="386.9" y="159.9" fill="#ffffff" font-weight="bold">10.00 kV</text><line x1="403.5" y1="151.6" x2="403.5" y2="160.1" stroke="#555" stroke-width="0.4"/><text x="404.7" y="155.3" fill="#bbbbbb">spot</text><text x="404.7" y="159.9" fill="#ffffff" font-weight="bold">8.0</text><line x1="415.1" y1="151.6" x2="415.1" y2="160.1" stroke="#555" stroke-width="0.4"/><text x="416.3" y="155.3" fill="#bbbbbb">WD</text><text x="416.3" y="159.9" fill="#ffffff" font-weight="bold">7.7 mm</text><line x1="430.8" y1="151.6" x2="430.8" y2="160.1" stroke="#555" stroke-width="0.4"/><text x="432.0" y="155.3" fill="#bbbbbb">det</text><text x="432.0" y="159.9" fill="#ffffff" font-weight="bold">LVD</text><line x1="441.6" y1="151.6" x2="441.6" y2="160.1" stroke="#555" stroke-width="0.4"/><text x="442.8" y="155.3" fill="#bbbbbb">dwell</text><text x="442.8" y="159.9" fill="#ffffff" font-weight="bold">1.00 µs</text></g><g stroke="#cccccc" stroke-width="0.45"><line x1="460.7" y1="154.2" x2="475.4" y2="154.2"/><line x1="485.4" y1="154.2" x2="500.2" y2="154.2"/><line x1="460.7" y1="153.2" x2="460.7" y2="155.2"/><line x1="500.2" y1="153.2" x2="500.2" y2="155.2"/></g><text x="480.4" y="155.3" font-family='"Liberation Sans", Arial, sans-serif' font-size="3.3" fill="#dddddd" text-anchor="middle">5 µm</text><text x="466.9" y="159.9" font-family='"Liberation Sans", Arial, sans-serif' font-size="3.3" fill="#bbbbbb" textLength="26">SRMIST Apreo S</text>
<rect x="303.0" y="420.9" width="199.0" height="8.2" fill="#050505"/><g fill="none" stroke="#bcd8e6" stroke-width="0.5"><ellipse cx="308.8" cy="425.0" rx="3.6" ry="1.4"/><ellipse cx="308.8" cy="425.0" rx="3.6" ry="1.4" transform="rotate(60 308.8 425.0)"/><ellipse cx="308.8" cy="425.0" rx="3.6" ry="1.4" transform="rotate(-60 308.8 425.0)"/></g><circle cx="308.8" cy="425.0" r="0.8" fill="#4aa0d0"/><g font-family='"Liberation Sans", Arial, sans-serif' font-size="3.3" fill="#d8d8d8"><text x="315.6" y="424.7" textLength="15.6">7/13/2022</text><text x="315.6" y="428.6" textLength="15.4">9:39:54 AM</text></g><rect x="334.6" y="421.7" width="18.3" height="6.8" fill="#f4f4f0"/><circle cx="337.9" cy="425.0" r="2.1" fill="#3b6fb8" stroke="#e0b030" stroke-width="0.5"/><text x="340.2" y="426.7" font-family='"Liberation Serif", "Times New Roman", serif' font-weight="bold" font-size="5.2" fill="#3563b0" textLength="10.8" lengthAdjust="spacingAndGlyphs">SRM</text><g font-family='"Liberation Sans", Arial, sans-serif' font-size="3.3"><line x1="353.1" y1="421.5" x2="353.1" y2="428.5" stroke="#555" stroke-width="0.4"/><text x="354.3" y="424.7" fill="#bbbbbb">HV</text><text x="354.3" y="428.6" fill="#ffffff" font-weight="bold">15.00 kV</text><line x1="371.0" y1="421.5" x2="371.0" y2="428.5" stroke="#555" stroke-width="0.4"/><text x="372.2" y="424.7" fill="#bbbbbb">use case</text><text x="372.2" y="428.6" fill="#ffffff" font-weight="bold">Standard</text><line x1="388.8" y1="421.5" x2="388.8" y2="428.5" stroke="#555" stroke-width="0.4"/><text x="390.0" y="424.7" fill="#bbbbbb">spot</text><text x="390.0" y="428.6" fill="#ffffff" font-weight="bold">8.0</text><line x1="398.8" y1="421.5" x2="398.8" y2="428.5" stroke="#555" stroke-width="0.4"/><text x="400.0" y="424.7" fill="#bbbbbb">WD</text><text x="400.0" y="428.6" fill="#ffffff" font-weight="bold">12.1 mm</text><line x1="416.7" y1="421.5" x2="416.7" y2="428.5" stroke="#555" stroke-width="0.4"/><text x="417.9" y="424.7" fill="#bbbbbb">mag</text><text x="417.9" y="428.6" fill="#ffffff" font-weight="bold">25 000 x</text><line x1="429.2" y1="421.5" x2="429.2" y2="428.5" stroke="#555" stroke-width="0.4"/><text x="430.4" y="424.7" fill="#bbbbbb">⊡</text><text x="430.4" y="428.6" fill="#ffffff" font-weight="bold"></text><line x1="433.8" y1="421.5" x2="433.8" y2="428.5" stroke="#555" stroke-width="0.4"/><text x="435.0" y="424.7" fill="#bbbbbb">HFW</text><text x="435.0" y="428.6" fill="#ffffff" font-weight="bold">16.6 µm</text><line x1="450.2" y1="421.5" x2="450.2" y2="428.5" stroke="#555" stroke-width="0.4"/><text x="451.4" y="424.7" fill="#bbbbbb">det</text><text x="451.4" y="428.6" fill="#ffffff" font-weight="bold">ETD</text></g><g stroke="#cccccc" stroke-width="0.45"><line x1="462.2" y1="423.6" x2="475.8" y2="423.6"/><line x1="485.8" y1="423.6" x2="499.4" y2="423.6"/><line x1="462.2" y1="422.6" x2="462.2" y2="424.6"/><line x1="499.4" y1="422.6" x2="499.4" y2="424.6"/></g><text x="480.8" y="424.7" font-family='"Liberation Sans", Arial, sans-serif' font-size="3.3" fill="#dddddd" text-anchor="middle">3 µm</text><text x="468.4" y="428.6" font-family='"Liberation Sans", Arial, sans-serif' font-size="3.3" fill="#bbbbbb" textLength="26">SRMIST Apreo S</text>
</svg></body></html>
